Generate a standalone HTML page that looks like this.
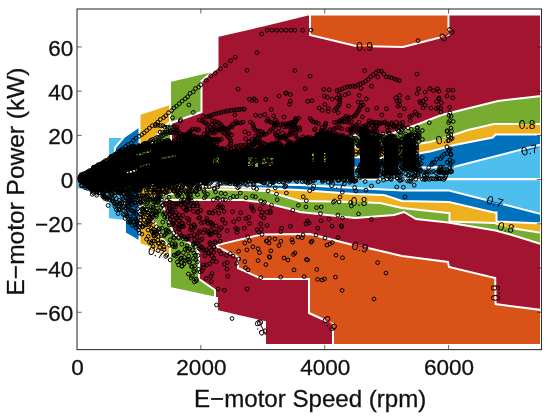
<!DOCTYPE html>
<html><head><meta charset="utf-8"><title>E-motor map</title><style>html,body{margin:0;padding:0;background:#fff}svg{display:block}</style></head><body>
<svg width="550" height="420" viewBox="0 0 550 420">
<rect width="550" height="420" fill="#fff"/>
<clipPath id="cp"><rect x="77" y="9" width="464.5" height="340.5"/></clipPath>
<g clip-path="url(#cp)">
<g stroke="#fff" stroke-width="2" stroke-linejoin="miter">
<polygon fill="#4DBEEE" points="77,179 108,161 108,137 123.5,137 138.5,127 138.5,114 170,104 170,81 217,70 217,36 263,25.5 309,14.4 541,14.4 541,344.9 265,344.9 265,322 217,311 217,298 170,288 170,254.5 140,244 138.5,241 124,233 124,221 108,219 108,196 77,189"/>
<polygon fill="#0072BD" points="124,137 115,147.5 115,172 216,174 286,171 350,167.6 410,167.8 454.5,166.8 541,144.5 541,14.4 309,14.4 263,25.5 217,36 217,70 170,81 170,104 138.5,114 138.5,127"/>
<polygon fill="#EDB120" points="139.5,114 139.5,170 216,167 286,163 350,157 383,158 405,157 418,153.5 430,151.4 454.5,145 492.7,137.5 495.5,134.5 541,134.5 541,14.4 309,14.4 263,25.5 217,36 217,70 170,81 170,104"/>
<polygon fill="#77AC30" points="170,81 170,121.5 155,137.5 140,162 216,162 286,157 350,147 383,146 417,144 430,142 443,138.5 468,130 494,124 541,124 541,14.4 309,14.4 263,25.5 217,36 217,70"/>
<polygon fill="#A2142F" points="171,123 201.5,112 201.5,81 217.5,67.5 217.5,36 263,25.5 309,14.4 541,14.4 541,96 498,101 441.5,115 416,125 390,134.3 357,134.8 346,137.5 286,150 216,155.5 171,163"/>
<polygon fill="#D95319" points="310,14.4 448.5,14.4 448.5,35 438,38 403,47 356,46 310,35"/>
<polygon fill="#0072BD" points="125,186 200,183.5 300,185 355,188 402,190.5 449,190.5 541,214 541,344.9 265,344.9 265,322 217,311 217,298 170,288 170,254.5 140,244 138.5,241 125,233"/>
<polygon fill="#EDB120" points="139.5,187 200,185.5 266,188.5 300,190 355,194 384,195 402,201 449,202 494,212.5 496.5,212.5 496.5,221.5 541,223.4 541,344.9 265,344.9 265,322 217,311 217,298 170,288 170,254.5 139.5,244"/>
<polygon fill="#77AC30" points="137,199.5 200,189 244,190 266,191 300,201 355,202 380,203 402,208 448,213 449.5,213 449.5,221.5 495,223 501,225.5 514,228.5 541,232.8 541,344.9 265,344.9 265,322 217,311 217,298 170,288 170,248 162,238 152,215"/>
<polygon fill="#A2142F" points="161,200 200,200 244,200 266,203 290,209 300,212 355,218 394,215 404,212 416,219 448,222.4 495.5,230.5 512,235 541,244 541,344.9 265,344.9 265,322 217,311 217,298 215,298 215,290 199,279 199,254 195,245 191,244 174,234 169,222.5"/>
<polygon fill="#D95319" points="215,245.6 262,234.4 310,234 353,245 368,248 402,256 448,262 449,267 495.2,278 495.6,304 541,310 541,344.9 333,344.9 333,324 309,313 309,279 262,279 238,268 238,257"/>
<line x1="77" y1="179.2" x2="541" y2="179.2" stroke-width="2.3"/>
</g>
<g transform="rotate(0 364.5 47)"><rect x="356.0" y="45.6" width="17" height="1.5" fill="#D95319"/><rect x="356.0" y="47" width="17" height="1.4" fill="#A2142F"/></g>
<g transform="rotate(-40 447 34)"><rect x="438.5" y="32.6" width="17" height="1.5" fill="#D95319"/><rect x="438.5" y="34" width="17" height="1.4" fill="#A2142F"/></g>
<g transform="rotate(-10 444 139)"><rect x="435.5" y="137.6" width="17" height="1.5" fill="#77AC30"/><rect x="435.5" y="139" width="17" height="1.4" fill="#EDB120"/></g>
<g transform="rotate(0 527 124.4)"><rect x="518.5" y="123.0" width="17" height="1.5" fill="#77AC30"/><rect x="518.5" y="124.4" width="17" height="1.4" fill="#EDB120"/></g>
<g transform="rotate(-13 529.5 150)"><rect x="521.0" y="148.6" width="17" height="1.5" fill="#0072BD"/><rect x="521.0" y="150" width="17" height="1.4" fill="#4DBEEE"/></g>
<g transform="rotate(-8 445.5 168)"><rect x="437.0" y="166.6" width="17" height="1.5" fill="#0072BD"/><rect x="437.0" y="168" width="17" height="1.4" fill="#4DBEEE"/></g>
<g transform="rotate(5 337 184)"><rect x="328.5" y="182.6" width="17" height="1.5" fill="#4DBEEE"/><rect x="328.5" y="184" width="17" height="1.4" fill="#0072BD"/></g>
<g transform="rotate(0 359 202)"><rect x="350.5" y="200.6" width="17" height="1.5" fill="#EDB120"/><rect x="350.5" y="202" width="17" height="1.4" fill="#77AC30"/></g>
<g transform="rotate(13 360 247)"><rect x="351.5" y="245.6" width="17" height="1.5" fill="#A2142F"/><rect x="351.5" y="247" width="17" height="1.4" fill="#D95319"/></g>
<g transform="rotate(15 495 201.5)"><rect x="486.5" y="200.1" width="17" height="1.5" fill="#4DBEEE"/><rect x="486.5" y="201.5" width="17" height="1.4" fill="#0072BD"/></g>
<g transform="rotate(12 506 227.3)"><rect x="497.5" y="225.9" width="17" height="1.5" fill="#EDB120"/><rect x="497.5" y="227.3" width="17" height="1.4" fill="#77AC30"/></g>
<g transform="rotate(50 330 323.5)"><rect x="321.5" y="322.1" width="17" height="1.5" fill="#D95319"/><rect x="321.5" y="323.5" width="17" height="1.4" fill="#A2142F"/></g>
<g transform="rotate(18 156.5 252.3)"><rect x="148.0" y="250.9" width="17" height="1.5" fill="#EDB120"/><rect x="148.0" y="252.3" width="17" height="1.4" fill="#fff"/></g>
<g transform="rotate(64 261.2 327.5)"><rect x="252.7" y="326.1" width="17" height="1.5" fill="#A2142F"/><rect x="252.7" y="327.5" width="17" height="1.4" fill="#fff"/></g>
<g font-family="Liberation Sans, sans-serif" font-size="12" fill="#000" text-anchor="middle">
<text x="364.5" y="51.3" transform="rotate(0 364.5 47)">0.9</text>
<text x="447" y="38.3" transform="rotate(-40 447 34)">0.9</text>
<text x="444" y="143.3" transform="rotate(-10 444 139)">0.8</text>
<text x="527" y="128.70000000000002" transform="rotate(0 527 124.4)">0.8</text>
<text x="529.5" y="154.3" transform="rotate(-13 529.5 150)">0.7</text>
<text x="445.5" y="172.3" transform="rotate(-8 445.5 168)">0.7</text>
<text x="337" y="188.3" transform="rotate(5 337 184)">0.7</text>
<text x="359" y="206.3" transform="rotate(0 359 202)">0.8</text>
<text x="360" y="251.3" transform="rotate(13 360 247)">0.9</text>
<text x="495" y="205.8" transform="rotate(15 495 201.5)">0.7</text>
<text x="506" y="231.60000000000002" transform="rotate(12 506 227.3)">0.8</text>
<text x="495.3" y="297.3" transform="rotate(-90 495.3 293)">0.9</text>
<text x="330" y="327.8" transform="rotate(50 330 323.5)">0.9</text>
<text x="156.5" y="256.6" transform="rotate(18 156.5 252.3)">0.7</text>
<text x="261.2" y="331.8" transform="rotate(64 261.2 327.5)">0.8</text>
</g>
<path d="M77.0,178.5 110.0,158.5 122.0,151.5 140.0,145.5 170.0,141.0 200.0,142.0 210.0,140.0 224.5,150.5 239.0,151.5 253.6,150.5 268.0,146.5 278.0,143.0 284.0,147.0 290.0,144.5 304.5,139.5 315.0,135.5 323.5,131.0 333.6,135.0 348.0,138.0 354.5,138.5 354.5,179.5 200.0,182.0 130.0,185.0 100.0,190.5 92.0,192.5 84.0,186.0 77.0,180.5Z" fill="#000"/>
<rect x="360" y="137.5" width="19.5" height="41.1" fill="#000"/>
<rect x="384" y="139.5" width="14.5" height="36.0" fill="#000"/>
<rect x="402.5" y="138" width="14.0" height="33.5" fill="#000"/>
<rect x="213" y="157" width="6.0" height="6.0" fill="#77AC30"/>
<rect x="248" y="157.5" width="5.0" height="8.5" fill="#77AC30"/>
<rect x="255" y="158" width="3.0" height="9.0" fill="#77AC30"/>
<rect x="262" y="157" width="6.0" height="7.0" fill="#77AC30"/>
<rect x="270" y="158" width="4.0" height="7.0" fill="#77AC30"/>
<rect x="312" y="153" width="1.6" height="9.0" fill="#EDB120"/>
<rect x="324" y="153" width="1.6" height="9.0" fill="#EDB120"/>
<rect x="268" y="163" width="3.0" height="3.0" fill="#EDB120"/>
<polygon fill="#fff" points="127,172 137,169.3 137,171 127,173.4"/>
<polygon fill="#EDB120" points="131,171.6 137,170 137,171 131,172.6"/>
<polygon fill="#77AC30" points="140,166 150,163 150,164.6 140,167.6"/>
<polygon fill="#77AC30" points="136,154.5 151,150.3 151,152 136,156.2"/>
<polygon fill="#77AC30" points="160,158 176,155 176,156.5 160,159.6"/>
<g fill="none" stroke="#000" stroke-width="1">
<circle cx="79.9" cy="177.3" r="1.9"/>
<circle cx="81.2" cy="176.4" r="1.9"/>
<circle cx="82.5" cy="175.3" r="1.9"/>
<circle cx="84.5" cy="174.6" r="1.9"/>
<circle cx="85.7" cy="173.0" r="1.9"/>
<circle cx="87.3" cy="172.6" r="1.9"/>
<circle cx="89.4" cy="170.7" r="1.9"/>
<circle cx="91.2" cy="170.8" r="1.9"/>
<circle cx="92.5" cy="169.3" r="1.9"/>
<circle cx="93.7" cy="167.6" r="1.9"/>
<circle cx="95.6" cy="166.6" r="1.9"/>
<circle cx="97.0" cy="165.8" r="1.9"/>
<circle cx="98.4" cy="165.1" r="1.9"/>
<circle cx="100.4" cy="164.5" r="1.9"/>
<circle cx="102.0" cy="163.3" r="1.9"/>
<circle cx="103.6" cy="162.3" r="1.9"/>
<circle cx="105.2" cy="160.8" r="1.9"/>
<circle cx="107.2" cy="160.6" r="1.9"/>
<circle cx="108.7" cy="159.3" r="1.9"/>
<circle cx="109.9" cy="157.7" r="1.9"/>
<circle cx="111.4" cy="156.3" r="1.9"/>
<circle cx="113.4" cy="155.5" r="1.9"/>
<circle cx="115.1" cy="154.3" r="1.9"/>
<circle cx="116.8" cy="153.7" r="1.9"/>
<circle cx="117.6" cy="151.8" r="1.9"/>
<circle cx="119.9" cy="150.9" r="1.9"/>
<circle cx="121.6" cy="149.7" r="1.9"/>
<circle cx="122.5" cy="148.8" r="1.9"/>
<circle cx="125.7" cy="146.4" r="1.9"/>
<circle cx="127.9" cy="144.5" r="1.9"/>
<circle cx="131.3" cy="143.0" r="1.9"/>
<circle cx="133.3" cy="140.4" r="1.9"/>
<circle cx="136.0" cy="138.2" r="1.9"/>
<circle cx="139.2" cy="136.3" r="1.9"/>
<circle cx="141.7" cy="134.6" r="1.9"/>
<circle cx="144.2" cy="132.8" r="1.9"/>
<circle cx="146.8" cy="130.5" r="1.9"/>
<circle cx="149.5" cy="128.1" r="1.9"/>
<circle cx="152.3" cy="125.7" r="1.9"/>
<circle cx="155.6" cy="124.2" r="1.9"/>
<circle cx="157.7" cy="122.2" r="1.9"/>
<circle cx="160.4" cy="119.4" r="1.9"/>
<circle cx="163.6" cy="117.6" r="1.9"/>
<circle cx="165.7" cy="115.8" r="1.9"/>
<circle cx="168.5" cy="112.8" r="1.9"/>
<circle cx="171.6" cy="110.6" r="1.9"/>
<circle cx="173.9" cy="107.9" r="1.9"/>
<circle cx="176.5" cy="106.1" r="1.9"/>
<circle cx="179.3" cy="103.7" r="1.9"/>
<circle cx="182.1" cy="101.1" r="1.9"/>
<circle cx="185.3" cy="98.7" r="1.9"/>
<circle cx="187.7" cy="96.7" r="1.9"/>
<circle cx="190.0" cy="93.4" r="1.9"/>
<circle cx="193.3" cy="91.8" r="1.9"/>
<circle cx="195.5" cy="88.6" r="1.9"/>
<circle cx="198.6" cy="87.1" r="1.9"/>
<circle cx="200.9" cy="84.7" r="1.9"/>
<circle cx="206.3" cy="80.4" r="1.9"/>
<circle cx="210.8" cy="75.9" r="1.9"/>
<circle cx="215.4" cy="73.1" r="1.9"/>
<circle cx="220.5" cy="68.9" r="1.9"/>
<circle cx="225.4" cy="65.2" r="1.9"/>
<circle cx="230.6" cy="60.7" r="1.9"/>
<circle cx="235.1" cy="57.2" r="1.9"/>
<circle cx="267.2" cy="30.2" r="1.9"/>
<circle cx="271.9" cy="30.2" r="1.9"/>
<circle cx="276.6" cy="30.2" r="1.9"/>
<circle cx="281.3" cy="30.2" r="1.9"/>
<circle cx="286.0" cy="30.2" r="1.9"/>
<circle cx="290.7" cy="30.2" r="1.9"/>
<circle cx="294.8" cy="30.2" r="1.9"/>
<circle cx="302.7" cy="30.3" r="1.9"/>
<circle cx="311.0" cy="30.1" r="1.9"/>
<circle cx="257.0" cy="52.6" r="1.9"/>
<circle cx="261.6" cy="34.0" r="1.9"/>
<circle cx="96.2" cy="167.0" r="1.9"/>
<circle cx="314.8" cy="180.0" r="1.9"/>
<circle cx="332.9" cy="133.3" r="1.9"/>
<circle cx="152.1" cy="142.4" r="1.9"/>
<circle cx="126.2" cy="150.3" r="1.9"/>
<circle cx="113.7" cy="157.5" r="1.9"/>
<circle cx="350.6" cy="180.8" r="1.9"/>
<circle cx="240.1" cy="150.0" r="1.9"/>
<circle cx="82.0" cy="185.7" r="1.9"/>
<circle cx="345.6" cy="137.9" r="1.9"/>
<circle cx="211.5" cy="181.8" r="1.9"/>
<circle cx="355.8" cy="138.6" r="1.9"/>
<circle cx="282.6" cy="182.0" r="1.9"/>
<circle cx="273.3" cy="182.7" r="1.9"/>
<circle cx="175.2" cy="184.9" r="1.9"/>
<circle cx="320.0" cy="133.7" r="1.9"/>
<circle cx="317.9" cy="134.3" r="1.9"/>
<circle cx="183.7" cy="141.8" r="1.9"/>
<circle cx="99.4" cy="192.8" r="1.9"/>
<circle cx="322.5" cy="180.3" r="1.9"/>
<circle cx="282.1" cy="145.5" r="1.9"/>
<circle cx="310.9" cy="137.8" r="1.9"/>
<circle cx="85.3" cy="187.6" r="1.9"/>
<circle cx="141.2" cy="185.1" r="1.9"/>
<circle cx="248.4" cy="181.0" r="1.9"/>
<circle cx="80.2" cy="177.1" r="1.9"/>
<circle cx="133.5" cy="148.9" r="1.9"/>
<circle cx="261.1" cy="149.6" r="1.9"/>
<circle cx="168.2" cy="183.0" r="1.9"/>
<circle cx="197.2" cy="184.0" r="1.9"/>
<circle cx="322.6" cy="131.7" r="1.9"/>
<circle cx="165.3" cy="141.7" r="1.9"/>
<circle cx="310.5" cy="181.5" r="1.9"/>
<circle cx="342.1" cy="135.8" r="1.9"/>
<circle cx="202.7" cy="140.6" r="1.9"/>
<circle cx="192.5" cy="182.9" r="1.9"/>
<circle cx="165.0" cy="185.6" r="1.9"/>
<circle cx="203.2" cy="139.9" r="1.9"/>
<circle cx="320.5" cy="133.2" r="1.9"/>
<circle cx="236.2" cy="152.2" r="1.9"/>
<circle cx="82.3" cy="175.1" r="1.9"/>
<circle cx="83.9" cy="185.7" r="1.9"/>
<circle cx="116.3" cy="155.2" r="1.9"/>
<circle cx="201.6" cy="183.1" r="1.9"/>
<circle cx="302.3" cy="181.5" r="1.9"/>
<circle cx="132.6" cy="147.0" r="1.9"/>
<circle cx="80.0" cy="177.3" r="1.9"/>
<circle cx="127.0" cy="149.4" r="1.9"/>
<circle cx="271.5" cy="145.6" r="1.9"/>
<circle cx="288.0" cy="146.2" r="1.9"/>
<circle cx="329.8" cy="134.8" r="1.9"/>
<circle cx="278.5" cy="143.2" r="1.9"/>
<circle cx="251.5" cy="181.4" r="1.9"/>
<circle cx="235.7" cy="183.0" r="1.9"/>
<circle cx="340.4" cy="136.9" r="1.9"/>
<circle cx="134.2" cy="186.4" r="1.9"/>
<circle cx="256.0" cy="180.8" r="1.9"/>
<circle cx="328.1" cy="182.1" r="1.9"/>
<circle cx="226.8" cy="181.6" r="1.9"/>
<circle cx="330.9" cy="180.0" r="1.9"/>
<circle cx="100.1" cy="164.7" r="1.9"/>
<circle cx="291.3" cy="142.6" r="1.9"/>
<circle cx="302.8" cy="141.0" r="1.9"/>
<circle cx="125.2" cy="151.3" r="1.9"/>
<circle cx="116.2" cy="154.9" r="1.9"/>
<circle cx="278.9" cy="181.9" r="1.9"/>
<circle cx="340.9" cy="137.9" r="1.9"/>
<circle cx="101.0" cy="164.0" r="1.9"/>
<circle cx="158.0" cy="184.8" r="1.9"/>
<circle cx="222.9" cy="182.4" r="1.9"/>
<circle cx="164.0" cy="142.9" r="1.9"/>
<circle cx="328.2" cy="133.9" r="1.9"/>
<circle cx="347.2" cy="138.1" r="1.9"/>
<circle cx="133.1" cy="147.8" r="1.9"/>
<circle cx="245.9" cy="152.4" r="1.9"/>
<circle cx="221.0" cy="148.8" r="1.9"/>
<circle cx="234.0" cy="151.7" r="1.9"/>
<circle cx="95.4" cy="167.1" r="1.9"/>
<circle cx="344.0" cy="179.5" r="1.9"/>
<circle cx="209.0" cy="140.0" r="1.9"/>
<circle cx="304.6" cy="180.8" r="1.9"/>
<circle cx="165.5" cy="142.0" r="1.9"/>
<circle cx="335.2" cy="136.2" r="1.9"/>
<circle cx="83.4" cy="173.8" r="1.9"/>
<circle cx="268.7" cy="145.8" r="1.9"/>
<circle cx="249.9" cy="151.4" r="1.9"/>
<circle cx="111.3" cy="157.0" r="1.9"/>
<circle cx="132.2" cy="147.9" r="1.9"/>
<circle cx="181.8" cy="141.5" r="1.9"/>
<circle cx="121.6" cy="152.1" r="1.9"/>
<circle cx="255.1" cy="151.1" r="1.9"/>
<circle cx="247.7" cy="181.0" r="1.9"/>
<circle cx="283.7" cy="182.5" r="1.9"/>
<circle cx="165.1" cy="143.0" r="1.9"/>
<circle cx="137.9" cy="186.5" r="1.9"/>
<circle cx="114.4" cy="156.6" r="1.9"/>
<circle cx="149.4" cy="145.1" r="1.9"/>
<circle cx="194.6" cy="181.6" r="1.9"/>
<circle cx="189.4" cy="181.5" r="1.9"/>
<circle cx="133.1" cy="186.8" r="1.9"/>
<circle cx="347.2" cy="137.8" r="1.9"/>
<circle cx="288.5" cy="145.7" r="1.9"/>
<circle cx="129.7" cy="147.7" r="1.9"/>
<circle cx="87.4" cy="172.2" r="1.9"/>
<circle cx="235.7" cy="150.3" r="1.9"/>
<circle cx="133.9" cy="187.0" r="1.9"/>
<circle cx="335.6" cy="134.1" r="1.9"/>
<circle cx="342.5" cy="137.6" r="1.9"/>
<circle cx="168.2" cy="141.3" r="1.9"/>
<circle cx="197.0" cy="181.2" r="1.9"/>
<circle cx="272.6" cy="180.4" r="1.9"/>
<circle cx="203.7" cy="182.2" r="1.9"/>
<circle cx="131.4" cy="148.4" r="1.9"/>
<circle cx="81.3" cy="185.4" r="1.9"/>
<circle cx="273.6" cy="181.8" r="1.9"/>
<circle cx="189.9" cy="141.7" r="1.9"/>
<circle cx="351.2" cy="179.4" r="1.9"/>
<circle cx="331.3" cy="181.4" r="1.9"/>
<circle cx="304.3" cy="140.8" r="1.9"/>
<circle cx="322.5" cy="181.5" r="1.9"/>
<circle cx="290.5" cy="145.0" r="1.9"/>
<circle cx="96.7" cy="166.5" r="1.9"/>
<circle cx="80.0" cy="177.1" r="1.9"/>
<circle cx="251.1" cy="152.0" r="1.9"/>
<circle cx="262.8" cy="148.4" r="1.9"/>
<circle cx="235.9" cy="151.0" r="1.9"/>
<circle cx="356.0" cy="180.7" r="1.9"/>
<circle cx="289.5" cy="179.6" r="1.9"/>
<circle cx="248.7" cy="181.0" r="1.9"/>
<circle cx="189.0" cy="140.7" r="1.9"/>
<circle cx="181.8" cy="140.6" r="1.9"/>
<circle cx="329.7" cy="133.5" r="1.9"/>
<circle cx="346.8" cy="139.2" r="1.9"/>
<circle cx="255.0" cy="180.4" r="1.9"/>
<circle cx="243.7" cy="180.4" r="1.9"/>
<circle cx="336.5" cy="135.5" r="1.9"/>
<circle cx="124.2" cy="151.1" r="1.9"/>
<circle cx="93.3" cy="192.5" r="1.9"/>
<circle cx="224.0" cy="149.7" r="1.9"/>
<circle cx="156.7" cy="184.6" r="1.9"/>
<circle cx="156.1" cy="183.8" r="1.9"/>
<circle cx="80.9" cy="174.8" r="1.9"/>
<circle cx="120.7" cy="187.0" r="1.9"/>
<circle cx="327.4" cy="179.1" r="1.9"/>
<circle cx="352.9" cy="178.8" r="1.9"/>
<circle cx="329.6" cy="133.4" r="1.9"/>
<circle cx="348.5" cy="138.1" r="1.9"/>
<circle cx="338.5" cy="180.3" r="1.9"/>
<circle cx="350.1" cy="180.5" r="1.9"/>
<circle cx="109.1" cy="189.3" r="1.9"/>
<circle cx="133.8" cy="147.6" r="1.9"/>
<circle cx="111.7" cy="158.0" r="1.9"/>
<circle cx="204.1" cy="141.4" r="1.9"/>
<circle cx="194.0" cy="183.0" r="1.9"/>
<circle cx="355.3" cy="180.8" r="1.9"/>
<circle cx="143.5" cy="146.2" r="1.9"/>
<circle cx="295.8" cy="180.6" r="1.9"/>
<circle cx="152.8" cy="184.8" r="1.9"/>
<circle cx="242.1" cy="182.7" r="1.9"/>
<circle cx="130.0" cy="150.3" r="1.9"/>
<circle cx="332.5" cy="179.0" r="1.9"/>
<circle cx="94.0" cy="168.0" r="1.9"/>
<circle cx="250.9" cy="150.8" r="1.9"/>
<circle cx="97.2" cy="166.8" r="1.9"/>
<circle cx="230.6" cy="181.7" r="1.9"/>
<circle cx="210.5" cy="139.9" r="1.9"/>
<circle cx="284.8" cy="179.9" r="1.9"/>
<circle cx="110.4" cy="189.6" r="1.9"/>
<circle cx="291.5" cy="143.8" r="1.9"/>
<circle cx="149.0" cy="184.4" r="1.9"/>
<circle cx="259.4" cy="181.1" r="1.9"/>
<circle cx="230.1" cy="183.5" r="1.9"/>
<circle cx="196.3" cy="140.7" r="1.9"/>
<circle cx="321.2" cy="131.0" r="1.9"/>
<circle cx="234.4" cy="151.7" r="1.9"/>
<circle cx="160.4" cy="182.9" r="1.9"/>
<circle cx="136.5" cy="184.0" r="1.9"/>
<circle cx="161.8" cy="184.9" r="1.9"/>
<circle cx="155.9" cy="142.7" r="1.9"/>
<circle cx="279.5" cy="142.9" r="1.9"/>
<circle cx="274.9" cy="145.3" r="1.9"/>
<circle cx="339.2" cy="180.1" r="1.9"/>
<circle cx="301.1" cy="140.1" r="1.9"/>
<circle cx="188.5" cy="184.4" r="1.9"/>
<circle cx="146.3" cy="144.2" r="1.9"/>
<circle cx="178.4" cy="140.9" r="1.9"/>
<circle cx="131.4" cy="149.3" r="1.9"/>
<circle cx="227.8" cy="182.4" r="1.9"/>
<circle cx="126.3" cy="187.5" r="1.9"/>
<circle cx="155.5" cy="143.2" r="1.9"/>
<circle cx="228.8" cy="152.2" r="1.9"/>
<circle cx="258.7" cy="180.3" r="1.9"/>
<circle cx="229.6" cy="180.8" r="1.9"/>
<circle cx="99.8" cy="192.4" r="1.9"/>
<circle cx="100.6" cy="189.8" r="1.9"/>
<circle cx="285.1" cy="180.4" r="1.9"/>
<circle cx="138.5" cy="185.3" r="1.9"/>
<circle cx="290.4" cy="143.9" r="1.9"/>
<circle cx="347.1" cy="180.2" r="1.9"/>
<circle cx="226.9" cy="182.8" r="1.9"/>
<circle cx="332.3" cy="135.5" r="1.9"/>
<circle cx="263.0" cy="182.6" r="1.9"/>
<circle cx="309.6" cy="182.3" r="1.9"/>
<circle cx="255.6" cy="150.6" r="1.9"/>
<circle cx="300.8" cy="140.5" r="1.9"/>
<circle cx="117.8" cy="189.4" r="1.9"/>
<circle cx="181.8" cy="140.5" r="1.9"/>
<circle cx="195.6" cy="143.3" r="1.9"/>
<circle cx="93.5" cy="167.3" r="1.9"/>
<circle cx="257.8" cy="180.6" r="1.9"/>
<circle cx="94.4" cy="168.2" r="1.9"/>
<circle cx="330.7" cy="132.7" r="1.9"/>
<circle cx="128.5" cy="148.5" r="1.9"/>
<circle cx="277.1" cy="142.5" r="1.9"/>
<circle cx="128.6" cy="148.3" r="1.9"/>
<circle cx="288.3" cy="145.3" r="1.9"/>
<circle cx="305.0" cy="138.6" r="1.9"/>
<circle cx="324.6" cy="180.1" r="1.9"/>
<circle cx="229.7" cy="182.1" r="1.9"/>
<circle cx="138.7" cy="147.3" r="1.9"/>
<circle cx="300.6" cy="140.9" r="1.9"/>
<circle cx="220.9" cy="149.4" r="1.9"/>
<circle cx="260.5" cy="147.1" r="1.9"/>
<circle cx="208.9" cy="141.1" r="1.9"/>
<circle cx="276.0" cy="180.3" r="1.9"/>
<circle cx="120.8" cy="151.5" r="1.9"/>
<circle cx="319.5" cy="133.5" r="1.9"/>
<circle cx="354.1" cy="138.6" r="1.9"/>
<circle cx="119.0" cy="186.0" r="1.9"/>
<circle cx="306.2" cy="181.9" r="1.9"/>
<circle cx="100.0" cy="165.2" r="1.9"/>
<circle cx="104.1" cy="162.0" r="1.9"/>
<circle cx="343.6" cy="138.2" r="1.9"/>
<circle cx="161.7" cy="184.0" r="1.9"/>
<circle cx="332.8" cy="135.7" r="1.9"/>
<circle cx="135.1" cy="147.2" r="1.9"/>
<circle cx="121.0" cy="186.7" r="1.9"/>
<circle cx="163.7" cy="141.4" r="1.9"/>
<circle cx="207.4" cy="182.0" r="1.9"/>
<circle cx="268.7" cy="145.9" r="1.9"/>
<circle cx="205.8" cy="183.6" r="1.9"/>
<circle cx="259.4" cy="148.5" r="1.9"/>
<circle cx="275.1" cy="144.2" r="1.9"/>
<circle cx="204.8" cy="142.5" r="1.9"/>
<circle cx="300.0" cy="141.4" r="1.9"/>
<circle cx="158.0" cy="142.9" r="1.9"/>
<circle cx="160.2" cy="142.1" r="1.9"/>
<circle cx="263.0" cy="147.0" r="1.9"/>
<circle cx="281.1" cy="146.4" r="1.9"/>
<circle cx="234.0" cy="181.5" r="1.9"/>
<circle cx="307.7" cy="137.2" r="1.9"/>
<circle cx="103.3" cy="191.2" r="1.9"/>
<circle cx="127.2" cy="150.8" r="1.9"/>
<circle cx="242.4" cy="150.4" r="1.9"/>
<circle cx="120.8" cy="151.9" r="1.9"/>
<circle cx="97.3" cy="191.5" r="1.9"/>
<circle cx="219.7" cy="183.1" r="1.9"/>
<circle cx="306.1" cy="138.4" r="1.9"/>
<circle cx="192.0" cy="141.4" r="1.9"/>
<circle cx="272.3" cy="182.4" r="1.9"/>
<circle cx="261.2" cy="180.1" r="1.9"/>
<circle cx="169.4" cy="141.5" r="1.9"/>
<circle cx="106.7" cy="160.6" r="1.9"/>
<circle cx="297.0" cy="181.4" r="1.9"/>
<circle cx="121.2" cy="188.5" r="1.9"/>
<circle cx="230.0" cy="150.9" r="1.9"/>
<circle cx="116.5" cy="189.6" r="1.9"/>
<circle cx="221.0" cy="183.3" r="1.9"/>
<circle cx="132.0" cy="185.9" r="1.9"/>
<circle cx="132.2" cy="147.3" r="1.9"/>
<circle cx="237.8" cy="181.4" r="1.9"/>
<circle cx="336.2" cy="135.4" r="1.9"/>
<circle cx="111.6" cy="187.8" r="1.9"/>
<circle cx="329.2" cy="133.5" r="1.9"/>
<circle cx="233.3" cy="152.3" r="1.9"/>
<circle cx="353.8" cy="180.4" r="1.9"/>
<circle cx="111.2" cy="188.4" r="1.9"/>
<circle cx="327.3" cy="132.7" r="1.9"/>
<circle cx="308.8" cy="138.0" r="1.9"/>
<circle cx="98.3" cy="164.6" r="1.9"/>
<circle cx="352.4" cy="180.6" r="1.9"/>
<circle cx="162.8" cy="185.0" r="1.9"/>
<circle cx="183.5" cy="142.4" r="1.9"/>
<circle cx="81.6" cy="175.6" r="1.9"/>
<circle cx="116.9" cy="154.7" r="1.9"/>
<circle cx="125.5" cy="149.6" r="1.9"/>
<circle cx="235.5" cy="151.7" r="1.9"/>
<circle cx="87.6" cy="188.4" r="1.9"/>
<circle cx="344.7" cy="180.2" r="1.9"/>
<circle cx="191.8" cy="183.6" r="1.9"/>
<circle cx="288.5" cy="181.1" r="1.9"/>
<circle cx="354.5" cy="181.2" r="1.9"/>
<circle cx="191.1" cy="141.9" r="1.9"/>
<circle cx="329.6" cy="133.5" r="1.9"/>
<circle cx="197.6" cy="182.1" r="1.9"/>
<circle cx="92.3" cy="194.3" r="1.9"/>
<circle cx="281.2" cy="145.9" r="1.9"/>
<circle cx="162.0" cy="140.9" r="1.9"/>
<circle cx="111.7" cy="157.5" r="1.9"/>
<circle cx="187.7" cy="142.2" r="1.9"/>
<circle cx="223.8" cy="149.4" r="1.9"/>
<circle cx="187.4" cy="140.3" r="1.9"/>
<circle cx="331.3" cy="181.0" r="1.9"/>
<circle cx="318.8" cy="134.4" r="1.9"/>
<circle cx="138.9" cy="185.4" r="1.9"/>
<circle cx="329.1" cy="134.1" r="1.9"/>
<circle cx="111.5" cy="159.0" r="1.9"/>
<circle cx="167.6" cy="142.5" r="1.9"/>
<circle cx="304.5" cy="139.1" r="1.9"/>
<circle cx="240.4" cy="150.0" r="1.9"/>
<circle cx="327.7" cy="132.7" r="1.9"/>
<circle cx="337.6" cy="180.3" r="1.9"/>
<circle cx="134.6" cy="148.6" r="1.9"/>
<circle cx="327.2" cy="133.5" r="1.9"/>
<circle cx="175.8" cy="140.2" r="1.9"/>
<circle cx="322.4" cy="179.7" r="1.9"/>
<circle cx="253.4" cy="151.7" r="1.9"/>
<circle cx="91.0" cy="170.7" r="1.9"/>
<circle cx="164.3" cy="185.3" r="1.9"/>
<circle cx="276.0" cy="144.3" r="1.9"/>
<circle cx="338.6" cy="134.8" r="1.9"/>
<circle cx="139.3" cy="146.4" r="1.9"/>
<circle cx="131.8" cy="147.4" r="1.9"/>
<circle cx="262.4" cy="181.2" r="1.9"/>
<circle cx="261.7" cy="181.9" r="1.9"/>
<circle cx="140.9" cy="146.6" r="1.9"/>
<circle cx="263.1" cy="148.3" r="1.9"/>
<circle cx="102.1" cy="190.5" r="1.9"/>
<circle cx="224.4" cy="149.1" r="1.9"/>
<circle cx="244.3" cy="150.4" r="1.9"/>
<circle cx="301.1" cy="140.0" r="1.9"/>
<circle cx="287.8" cy="144.7" r="1.9"/>
<circle cx="229.9" cy="152.1" r="1.9"/>
<circle cx="352.6" cy="138.2" r="1.9"/>
<circle cx="286.4" cy="147.3" r="1.9"/>
<circle cx="216.5" cy="144.9" r="1.9"/>
<circle cx="256.9" cy="150.0" r="1.9"/>
<circle cx="295.5" cy="142.6" r="1.9"/>
<circle cx="312.9" cy="180.8" r="1.9"/>
<circle cx="342.5" cy="137.7" r="1.9"/>
<circle cx="123.1" cy="186.0" r="1.9"/>
<circle cx="199.9" cy="183.5" r="1.9"/>
<circle cx="297.7" cy="141.8" r="1.9"/>
<circle cx="138.7" cy="145.9" r="1.9"/>
<circle cx="86.9" cy="173.2" r="1.9"/>
<circle cx="236.8" cy="181.0" r="1.9"/>
<circle cx="119.4" cy="153.0" r="1.9"/>
<circle cx="198.3" cy="141.2" r="1.9"/>
<circle cx="299.8" cy="142.3" r="1.9"/>
<circle cx="235.7" cy="152.1" r="1.9"/>
<circle cx="143.4" cy="144.4" r="1.9"/>
<circle cx="88.8" cy="171.7" r="1.9"/>
<circle cx="223.6" cy="150.1" r="1.9"/>
<circle cx="101.7" cy="189.7" r="1.9"/>
<circle cx="148.1" cy="144.9" r="1.9"/>
<circle cx="308.8" cy="179.4" r="1.9"/>
<circle cx="191.6" cy="140.9" r="1.9"/>
<circle cx="347.8" cy="137.9" r="1.9"/>
<circle cx="289.4" cy="180.0" r="1.9"/>
<circle cx="204.0" cy="181.1" r="1.9"/>
<circle cx="144.1" cy="183.8" r="1.9"/>
<circle cx="186.6" cy="141.3" r="1.9"/>
<circle cx="98.3" cy="167.1" r="1.9"/>
<circle cx="290.0" cy="180.3" r="1.9"/>
<circle cx="147.6" cy="143.6" r="1.9"/>
<circle cx="205.8" cy="182.1" r="1.9"/>
<circle cx="171.0" cy="184.2" r="1.9"/>
<circle cx="88.1" cy="172.2" r="1.9"/>
<circle cx="93.3" cy="169.2" r="1.9"/>
<circle cx="318.2" cy="135.0" r="1.9"/>
<circle cx="206.1" cy="141.8" r="1.9"/>
<circle cx="183.3" cy="182.4" r="1.9"/>
<circle cx="173.9" cy="141.3" r="1.9"/>
<circle cx="122.7" cy="150.4" r="1.9"/>
<circle cx="207.5" cy="140.3" r="1.9"/>
<circle cx="354.1" cy="181.3" r="1.9"/>
<circle cx="134.1" cy="146.2" r="1.9"/>
<circle cx="269.9" cy="145.2" r="1.9"/>
<circle cx="82.2" cy="174.6" r="1.9"/>
<circle cx="186.6" cy="183.9" r="1.9"/>
<circle cx="151.9" cy="142.7" r="1.9"/>
<circle cx="338.3" cy="136.8" r="1.9"/>
<circle cx="278.8" cy="179.8" r="1.9"/>
<circle cx="166.9" cy="140.2" r="1.9"/>
<circle cx="323.2" cy="132.0" r="1.9"/>
<circle cx="221.9" cy="148.3" r="1.9"/>
<circle cx="143.5" cy="143.9" r="1.9"/>
<circle cx="243.1" cy="150.7" r="1.9"/>
<circle cx="195.3" cy="140.8" r="1.9"/>
<circle cx="274.1" cy="145.0" r="1.9"/>
<circle cx="262.9" cy="147.0" r="1.9"/>
<circle cx="155.2" cy="184.2" r="1.9"/>
<circle cx="184.8" cy="182.4" r="1.9"/>
<circle cx="158.5" cy="141.9" r="1.9"/>
<circle cx="88.4" cy="172.0" r="1.9"/>
<circle cx="234.9" cy="183.6" r="1.9"/>
<circle cx="160.2" cy="185.6" r="1.9"/>
<circle cx="137.3" cy="185.8" r="1.9"/>
<circle cx="343.5" cy="179.4" r="1.9"/>
<circle cx="253.5" cy="150.3" r="1.9"/>
<circle cx="186.5" cy="141.2" r="1.9"/>
<circle cx="168.6" cy="140.6" r="1.9"/>
<circle cx="121.2" cy="151.9" r="1.9"/>
<circle cx="123.5" cy="186.0" r="1.9"/>
<circle cx="103.0" cy="162.5" r="1.9"/>
<circle cx="119.1" cy="153.8" r="1.9"/>
<circle cx="231.3" cy="180.6" r="1.9"/>
<circle cx="186.2" cy="140.2" r="1.9"/>
<circle cx="189.8" cy="141.6" r="1.9"/>
<circle cx="240.5" cy="150.9" r="1.9"/>
<circle cx="147.7" cy="143.9" r="1.9"/>
<circle cx="325.8" cy="131.2" r="1.9"/>
<circle cx="263.4" cy="147.7" r="1.9"/>
<circle cx="248.7" cy="181.4" r="1.9"/>
<circle cx="237.8" cy="182.9" r="1.9"/>
<circle cx="252.0" cy="181.5" r="1.9"/>
<circle cx="192.9" cy="142.8" r="1.9"/>
<circle cx="322.4" cy="132.8" r="1.9"/>
<circle cx="87.6" cy="172.1" r="1.9"/>
<circle cx="119.7" cy="203.9" r="1.9"/>
<circle cx="260.2" cy="208.9" r="1.9"/>
<circle cx="142.8" cy="210.7" r="1.9"/>
<circle cx="96.8" cy="189.2" r="1.9"/>
<circle cx="141.2" cy="203.0" r="1.9"/>
<circle cx="111.4" cy="186.0" r="1.9"/>
<circle cx="167.5" cy="184.2" r="1.9"/>
<circle cx="146.6" cy="239.1" r="1.9"/>
<circle cx="165.8" cy="183.3" r="1.9"/>
<circle cx="148.8" cy="187.1" r="1.9"/>
<circle cx="162.2" cy="242.2" r="1.9"/>
<circle cx="165.2" cy="192.2" r="1.9"/>
<circle cx="108.0" cy="198.0" r="1.9"/>
<circle cx="194.1" cy="182.1" r="1.9"/>
<circle cx="191.1" cy="226.8" r="1.9"/>
<circle cx="194.2" cy="182.8" r="1.9"/>
<circle cx="189.5" cy="182.3" r="1.9"/>
<circle cx="190.3" cy="190.3" r="1.9"/>
<circle cx="194.1" cy="234.6" r="1.9"/>
<circle cx="198.6" cy="233.0" r="1.9"/>
<circle cx="133.6" cy="222.2" r="1.9"/>
<circle cx="232.4" cy="211.6" r="1.9"/>
<circle cx="150.2" cy="210.7" r="1.9"/>
<circle cx="147.0" cy="196.7" r="1.9"/>
<circle cx="152.2" cy="214.9" r="1.9"/>
<circle cx="256.6" cy="189.1" r="1.9"/>
<circle cx="280.7" cy="277.1" r="1.9"/>
<circle cx="171.9" cy="182.8" r="1.9"/>
<circle cx="206.1" cy="278.4" r="1.9"/>
<circle cx="212.2" cy="226.3" r="1.9"/>
<circle cx="178.7" cy="195.3" r="1.9"/>
<circle cx="172.1" cy="186.9" r="1.9"/>
<circle cx="128.5" cy="195.6" r="1.9"/>
<circle cx="139.1" cy="190.1" r="1.9"/>
<circle cx="186.1" cy="187.2" r="1.9"/>
<circle cx="128.4" cy="182.8" r="1.9"/>
<circle cx="216.3" cy="226.1" r="1.9"/>
<circle cx="181.9" cy="223.1" r="1.9"/>
<circle cx="144.0" cy="220.0" r="1.9"/>
<circle cx="205.5" cy="183.0" r="1.9"/>
<circle cx="183.6" cy="236.8" r="1.9"/>
<circle cx="127.2" cy="195.0" r="1.9"/>
<circle cx="209.6" cy="263.8" r="1.9"/>
<circle cx="105.2" cy="186.3" r="1.9"/>
<circle cx="96.6" cy="193.1" r="1.9"/>
<circle cx="157.4" cy="212.1" r="1.9"/>
<circle cx="316.5" cy="207.7" r="1.9"/>
<circle cx="159.8" cy="184.8" r="1.9"/>
<circle cx="233.1" cy="256.2" r="1.9"/>
<circle cx="133.5" cy="184.6" r="1.9"/>
<circle cx="181.8" cy="244.2" r="1.9"/>
<circle cx="119.1" cy="200.3" r="1.9"/>
<circle cx="102.9" cy="186.6" r="1.9"/>
<circle cx="169.0" cy="182.1" r="1.9"/>
<circle cx="187.0" cy="248.1" r="1.9"/>
<circle cx="80.3" cy="181.1" r="1.9"/>
<circle cx="122.8" cy="188.6" r="1.9"/>
<circle cx="247.7" cy="236.7" r="1.9"/>
<circle cx="215.0" cy="241.7" r="1.9"/>
<circle cx="173.5" cy="237.3" r="1.9"/>
<circle cx="157.0" cy="231.5" r="1.9"/>
<circle cx="238.7" cy="219.0" r="1.9"/>
<circle cx="104.5" cy="198.3" r="1.9"/>
<circle cx="304.1" cy="276.6" r="1.9"/>
<circle cx="135.3" cy="195.3" r="1.9"/>
<circle cx="230.2" cy="198.3" r="1.9"/>
<circle cx="182.5" cy="223.8" r="1.9"/>
<circle cx="177.7" cy="218.0" r="1.9"/>
<circle cx="126.7" cy="193.5" r="1.9"/>
<circle cx="96.7" cy="187.1" r="1.9"/>
<circle cx="157.1" cy="183.0" r="1.9"/>
<circle cx="151.5" cy="187.2" r="1.9"/>
<circle cx="159.0" cy="194.7" r="1.9"/>
<circle cx="162.8" cy="183.3" r="1.9"/>
<circle cx="225.3" cy="193.9" r="1.9"/>
<circle cx="185.4" cy="210.1" r="1.9"/>
<circle cx="317.8" cy="228.2" r="1.9"/>
<circle cx="211.5" cy="234.1" r="1.9"/>
<circle cx="177.2" cy="203.6" r="1.9"/>
<circle cx="138.6" cy="198.5" r="1.9"/>
<circle cx="221.1" cy="193.2" r="1.9"/>
<circle cx="158.3" cy="186.0" r="1.9"/>
<circle cx="173.7" cy="190.8" r="1.9"/>
<circle cx="190.4" cy="186.9" r="1.9"/>
<circle cx="137.2" cy="222.1" r="1.9"/>
<circle cx="96.7" cy="195.3" r="1.9"/>
<circle cx="148.8" cy="186.5" r="1.9"/>
<circle cx="134.3" cy="182.9" r="1.9"/>
<circle cx="139.6" cy="184.3" r="1.9"/>
<circle cx="142.5" cy="195.7" r="1.9"/>
<circle cx="140.4" cy="214.2" r="1.9"/>
<circle cx="131.3" cy="190.5" r="1.9"/>
<circle cx="181.9" cy="191.3" r="1.9"/>
<circle cx="156.3" cy="200.0" r="1.9"/>
<circle cx="153.0" cy="184.5" r="1.9"/>
<circle cx="211.2" cy="281.4" r="1.9"/>
<circle cx="123.8" cy="182.5" r="1.9"/>
<circle cx="178.7" cy="238.1" r="1.9"/>
<circle cx="127.1" cy="191.1" r="1.9"/>
<circle cx="107.3" cy="185.1" r="1.9"/>
<circle cx="138.7" cy="196.2" r="1.9"/>
<circle cx="111.4" cy="184.2" r="1.9"/>
<circle cx="166.9" cy="255.0" r="1.9"/>
<circle cx="104.5" cy="187.0" r="1.9"/>
<circle cx="160.6" cy="202.7" r="1.9"/>
<circle cx="110.3" cy="184.1" r="1.9"/>
<circle cx="223.0" cy="199.4" r="1.9"/>
<circle cx="197.4" cy="261.8" r="1.9"/>
<circle cx="193.4" cy="243.6" r="1.9"/>
<circle cx="129.4" cy="200.9" r="1.9"/>
<circle cx="154.5" cy="236.1" r="1.9"/>
<circle cx="298.3" cy="205.3" r="1.9"/>
<circle cx="199.6" cy="187.0" r="1.9"/>
<circle cx="160.7" cy="207.6" r="1.9"/>
<circle cx="170.3" cy="219.1" r="1.9"/>
<circle cx="117.9" cy="190.7" r="1.9"/>
<circle cx="138.6" cy="229.9" r="1.9"/>
<circle cx="143.4" cy="184.3" r="1.9"/>
<circle cx="141.9" cy="209.4" r="1.9"/>
<circle cx="336.0" cy="255.2" r="1.9"/>
<circle cx="269.2" cy="256.7" r="1.9"/>
<circle cx="154.2" cy="193.0" r="1.9"/>
<circle cx="125.1" cy="189.8" r="1.9"/>
<circle cx="151.2" cy="242.9" r="1.9"/>
<circle cx="168.8" cy="222.7" r="1.9"/>
<circle cx="143.1" cy="212.4" r="1.9"/>
<circle cx="115.2" cy="203.3" r="1.9"/>
<circle cx="307.9" cy="183.1" r="1.9"/>
<circle cx="169.2" cy="232.0" r="1.9"/>
<circle cx="135.8" cy="218.9" r="1.9"/>
<circle cx="140.2" cy="186.8" r="1.9"/>
<circle cx="157.8" cy="192.2" r="1.9"/>
<circle cx="137.7" cy="183.5" r="1.9"/>
<circle cx="188.0" cy="239.2" r="1.9"/>
<circle cx="121.7" cy="186.8" r="1.9"/>
<circle cx="174.1" cy="255.1" r="1.9"/>
<circle cx="238.8" cy="259.0" r="1.9"/>
<circle cx="217.8" cy="184.8" r="1.9"/>
<circle cx="137.8" cy="190.2" r="1.9"/>
<circle cx="194.4" cy="281.9" r="1.9"/>
<circle cx="164.8" cy="217.2" r="1.9"/>
<circle cx="121.7" cy="184.6" r="1.9"/>
<circle cx="210.8" cy="276.4" r="1.9"/>
<circle cx="86.2" cy="183.7" r="1.9"/>
<circle cx="131.2" cy="197.4" r="1.9"/>
<circle cx="134.7" cy="225.0" r="1.9"/>
<circle cx="159.0" cy="211.0" r="1.9"/>
<circle cx="193.4" cy="258.5" r="1.9"/>
<circle cx="109.9" cy="190.7" r="1.9"/>
<circle cx="196.3" cy="280.8" r="1.9"/>
<circle cx="190.5" cy="230.1" r="1.9"/>
<circle cx="342.5" cy="218.1" r="1.9"/>
<circle cx="312.8" cy="188.8" r="1.9"/>
<circle cx="197.9" cy="212.4" r="1.9"/>
<circle cx="176.8" cy="184.2" r="1.9"/>
<circle cx="181.1" cy="190.8" r="1.9"/>
<circle cx="136.9" cy="183.0" r="1.9"/>
<circle cx="174.3" cy="182.9" r="1.9"/>
<circle cx="156.3" cy="199.5" r="1.9"/>
<circle cx="203.8" cy="250.2" r="1.9"/>
<circle cx="189.4" cy="189.2" r="1.9"/>
<circle cx="177.3" cy="190.1" r="1.9"/>
<circle cx="127.0" cy="216.7" r="1.9"/>
<circle cx="214.0" cy="188.2" r="1.9"/>
<circle cx="102.6" cy="196.2" r="1.9"/>
<circle cx="253.4" cy="210.6" r="1.9"/>
<circle cx="191.2" cy="200.5" r="1.9"/>
<circle cx="153.9" cy="190.0" r="1.9"/>
<circle cx="167.3" cy="216.7" r="1.9"/>
<circle cx="140.8" cy="185.6" r="1.9"/>
<circle cx="267.4" cy="183.4" r="1.9"/>
<circle cx="198.0" cy="205.9" r="1.9"/>
<circle cx="134.3" cy="188.5" r="1.9"/>
<circle cx="183.5" cy="226.3" r="1.9"/>
<circle cx="148.3" cy="213.0" r="1.9"/>
<circle cx="207.6" cy="230.9" r="1.9"/>
<circle cx="114.1" cy="188.2" r="1.9"/>
<circle cx="161.1" cy="186.4" r="1.9"/>
<circle cx="91.8" cy="184.5" r="1.9"/>
<circle cx="160.5" cy="182.8" r="1.9"/>
<circle cx="119.0" cy="209.3" r="1.9"/>
<circle cx="204.7" cy="255.9" r="1.9"/>
<circle cx="144.8" cy="181.0" r="1.9"/>
<circle cx="112.8" cy="198.6" r="1.9"/>
<circle cx="125.1" cy="218.4" r="1.9"/>
<circle cx="142.7" cy="226.8" r="1.9"/>
<circle cx="136.7" cy="214.5" r="1.9"/>
<circle cx="171.9" cy="209.6" r="1.9"/>
<circle cx="219.5" cy="229.9" r="1.9"/>
<circle cx="132.2" cy="182.3" r="1.9"/>
<circle cx="211.9" cy="256.0" r="1.9"/>
<circle cx="203.7" cy="222.5" r="1.9"/>
<circle cx="173.3" cy="181.7" r="1.9"/>
<circle cx="160.5" cy="194.5" r="1.9"/>
<circle cx="148.3" cy="224.7" r="1.9"/>
<circle cx="203.6" cy="250.1" r="1.9"/>
<circle cx="224.0" cy="211.4" r="1.9"/>
<circle cx="320.5" cy="213.5" r="1.9"/>
<circle cx="211.4" cy="250.3" r="1.9"/>
<circle cx="181.7" cy="236.2" r="1.9"/>
<circle cx="143.5" cy="209.0" r="1.9"/>
<circle cx="219.1" cy="235.8" r="1.9"/>
<circle cx="136.0" cy="227.6" r="1.9"/>
<circle cx="139.5" cy="233.1" r="1.9"/>
<circle cx="96.0" cy="189.8" r="1.9"/>
<circle cx="222.6" cy="219.5" r="1.9"/>
<circle cx="131.4" cy="196.8" r="1.9"/>
<circle cx="225.4" cy="199.8" r="1.9"/>
<circle cx="130.6" cy="216.7" r="1.9"/>
<circle cx="158.4" cy="193.3" r="1.9"/>
<circle cx="153.7" cy="192.3" r="1.9"/>
<circle cx="196.8" cy="205.9" r="1.9"/>
<circle cx="149.7" cy="199.6" r="1.9"/>
<circle cx="117.1" cy="202.2" r="1.9"/>
<circle cx="151.6" cy="231.2" r="1.9"/>
<circle cx="193.8" cy="253.1" r="1.9"/>
<circle cx="245.9" cy="197.7" r="1.9"/>
<circle cx="152.5" cy="232.3" r="1.9"/>
<circle cx="128.6" cy="193.3" r="1.9"/>
<circle cx="116.6" cy="183.5" r="1.9"/>
<circle cx="158.8" cy="181.0" r="1.9"/>
<circle cx="178.7" cy="252.4" r="1.9"/>
<circle cx="137.5" cy="221.2" r="1.9"/>
<circle cx="174.2" cy="238.2" r="1.9"/>
<circle cx="201.4" cy="222.8" r="1.9"/>
<circle cx="249.5" cy="223.4" r="1.9"/>
<circle cx="176.6" cy="223.3" r="1.9"/>
<circle cx="175.7" cy="204.0" r="1.9"/>
<circle cx="166.8" cy="218.6" r="1.9"/>
<circle cx="209.4" cy="247.8" r="1.9"/>
<circle cx="200.6" cy="210.4" r="1.9"/>
<circle cx="171.7" cy="224.8" r="1.9"/>
<circle cx="123.4" cy="194.3" r="1.9"/>
<circle cx="174.4" cy="191.2" r="1.9"/>
<circle cx="176.1" cy="212.6" r="1.9"/>
<circle cx="213.8" cy="258.2" r="1.9"/>
<circle cx="215.5" cy="191.9" r="1.9"/>
<circle cx="148.2" cy="236.4" r="1.9"/>
<circle cx="193.6" cy="182.4" r="1.9"/>
<circle cx="144.4" cy="207.6" r="1.9"/>
<circle cx="294.0" cy="269.9" r="1.9"/>
<circle cx="151.5" cy="228.2" r="1.9"/>
<circle cx="178.8" cy="182.3" r="1.9"/>
<circle cx="170.1" cy="239.8" r="1.9"/>
<circle cx="210.0" cy="242.5" r="1.9"/>
<circle cx="194.5" cy="265.9" r="1.9"/>
<circle cx="169.7" cy="208.5" r="1.9"/>
<circle cx="222.6" cy="206.9" r="1.9"/>
<circle cx="157.8" cy="240.0" r="1.9"/>
<circle cx="159.4" cy="190.6" r="1.9"/>
<circle cx="203.5" cy="264.9" r="1.9"/>
<circle cx="167.6" cy="184.9" r="1.9"/>
<circle cx="166.3" cy="229.7" r="1.9"/>
<circle cx="270.3" cy="210.9" r="1.9"/>
<circle cx="173.9" cy="190.3" r="1.9"/>
<circle cx="251.3" cy="206.2" r="1.9"/>
<circle cx="112.9" cy="201.5" r="1.9"/>
<circle cx="177.7" cy="194.5" r="1.9"/>
<circle cx="208.1" cy="252.7" r="1.9"/>
<circle cx="188.6" cy="222.9" r="1.9"/>
<circle cx="195.2" cy="185.9" r="1.9"/>
<circle cx="213.3" cy="199.8" r="1.9"/>
<circle cx="220.7" cy="207.5" r="1.9"/>
<circle cx="138.3" cy="191.0" r="1.9"/>
<circle cx="132.2" cy="201.9" r="1.9"/>
<circle cx="208.1" cy="181.6" r="1.9"/>
<circle cx="98.4" cy="188.5" r="1.9"/>
<circle cx="125.6" cy="207.6" r="1.9"/>
<circle cx="116.9" cy="186.7" r="1.9"/>
<circle cx="162.8" cy="182.9" r="1.9"/>
<circle cx="177.5" cy="183.7" r="1.9"/>
<circle cx="125.8" cy="209.1" r="1.9"/>
<circle cx="99.4" cy="183.5" r="1.9"/>
<circle cx="108.2" cy="205.5" r="1.9"/>
<circle cx="157.1" cy="197.3" r="1.9"/>
<circle cx="154.5" cy="232.0" r="1.9"/>
<circle cx="181.4" cy="204.4" r="1.9"/>
<circle cx="173.7" cy="206.7" r="1.9"/>
<circle cx="182.1" cy="202.1" r="1.9"/>
<circle cx="162.7" cy="182.0" r="1.9"/>
<circle cx="163.5" cy="193.9" r="1.9"/>
<circle cx="178.3" cy="237.5" r="1.9"/>
<circle cx="341.6" cy="226.7" r="1.9"/>
<circle cx="171.8" cy="244.0" r="1.9"/>
<circle cx="187.4" cy="218.4" r="1.9"/>
<circle cx="126.5" cy="197.9" r="1.9"/>
<circle cx="126.6" cy="213.9" r="1.9"/>
<circle cx="215.2" cy="231.9" r="1.9"/>
<circle cx="108.1" cy="190.8" r="1.9"/>
<circle cx="178.6" cy="264.9" r="1.9"/>
<circle cx="173.8" cy="233.0" r="1.9"/>
<circle cx="96.2" cy="190.1" r="1.9"/>
<circle cx="80.7" cy="181.5" r="1.9"/>
<circle cx="161.2" cy="235.5" r="1.9"/>
<circle cx="194.4" cy="225.2" r="1.9"/>
<circle cx="95.9" cy="189.2" r="1.9"/>
<circle cx="143.0" cy="226.5" r="1.9"/>
<circle cx="142.3" cy="226.8" r="1.9"/>
<circle cx="91.9" cy="185.9" r="1.9"/>
<circle cx="157.7" cy="196.6" r="1.9"/>
<circle cx="143.7" cy="224.5" r="1.9"/>
<circle cx="103.3" cy="196.5" r="1.9"/>
<circle cx="199.3" cy="188.4" r="1.9"/>
<circle cx="158.0" cy="185.9" r="1.9"/>
<circle cx="164.2" cy="185.3" r="1.9"/>
<circle cx="217.6" cy="186.9" r="1.9"/>
<circle cx="123.6" cy="200.5" r="1.9"/>
<circle cx="137.7" cy="225.7" r="1.9"/>
<circle cx="249.4" cy="240.8" r="1.9"/>
<circle cx="258.1" cy="248.7" r="1.9"/>
<circle cx="147.5" cy="195.0" r="1.9"/>
<circle cx="167.1" cy="187.7" r="1.9"/>
<circle cx="139.7" cy="223.2" r="1.9"/>
<circle cx="175.6" cy="256.0" r="1.9"/>
<circle cx="152.1" cy="216.9" r="1.9"/>
<circle cx="270.9" cy="250.8" r="1.9"/>
<circle cx="202.1" cy="270.8" r="1.9"/>
<circle cx="133.1" cy="183.9" r="1.9"/>
<circle cx="185.6" cy="191.2" r="1.9"/>
<circle cx="259.5" cy="252.7" r="1.9"/>
<circle cx="191.5" cy="266.6" r="1.9"/>
<circle cx="155.5" cy="189.9" r="1.9"/>
<circle cx="171.6" cy="186.2" r="1.9"/>
<circle cx="224.3" cy="290.1" r="1.9"/>
<circle cx="137.3" cy="197.5" r="1.9"/>
<circle cx="183.1" cy="238.5" r="1.9"/>
<circle cx="130.8" cy="209.8" r="1.9"/>
<circle cx="173.2" cy="188.9" r="1.9"/>
<circle cx="111.8" cy="189.5" r="1.9"/>
<circle cx="133.8" cy="197.6" r="1.9"/>
<circle cx="293.5" cy="254.5" r="1.9"/>
<circle cx="107.2" cy="185.4" r="1.9"/>
<circle cx="260.8" cy="277.5" r="1.9"/>
<circle cx="193.7" cy="270.7" r="1.9"/>
<circle cx="195.1" cy="191.5" r="1.9"/>
<circle cx="148.1" cy="221.4" r="1.9"/>
<circle cx="248.8" cy="217.3" r="1.9"/>
<circle cx="153.5" cy="229.4" r="1.9"/>
<circle cx="203.4" cy="232.7" r="1.9"/>
<circle cx="162.7" cy="185.6" r="1.9"/>
<circle cx="111.1" cy="193.9" r="1.9"/>
<circle cx="260.8" cy="201.0" r="1.9"/>
<circle cx="166.7" cy="200.6" r="1.9"/>
<circle cx="175.1" cy="243.6" r="1.9"/>
<circle cx="89.8" cy="184.8" r="1.9"/>
<circle cx="212.7" cy="213.1" r="1.9"/>
<circle cx="292.8" cy="210.2" r="1.9"/>
<circle cx="135.8" cy="213.3" r="1.9"/>
<circle cx="179.1" cy="225.2" r="1.9"/>
<circle cx="118.1" cy="192.5" r="1.9"/>
<circle cx="224.4" cy="264.3" r="1.9"/>
<circle cx="204.7" cy="230.0" r="1.9"/>
<circle cx="120.9" cy="190.6" r="1.9"/>
<circle cx="255.5" cy="196.9" r="1.9"/>
<circle cx="115.1" cy="192.6" r="1.9"/>
<circle cx="164.9" cy="192.2" r="1.9"/>
<circle cx="188.1" cy="251.1" r="1.9"/>
<circle cx="237.4" cy="181.8" r="1.9"/>
<circle cx="110.7" cy="185.7" r="1.9"/>
<circle cx="243.3" cy="182.5" r="1.9"/>
<circle cx="235.2" cy="184.3" r="1.9"/>
<circle cx="165.8" cy="256.4" r="1.9"/>
<circle cx="182.1" cy="186.3" r="1.9"/>
<circle cx="212.1" cy="273.5" r="1.9"/>
<circle cx="253.6" cy="182.3" r="1.9"/>
<circle cx="157.9" cy="196.9" r="1.9"/>
<circle cx="173.0" cy="223.3" r="1.9"/>
<circle cx="148.6" cy="220.4" r="1.9"/>
<circle cx="183.6" cy="184.9" r="1.9"/>
<circle cx="179.6" cy="193.3" r="1.9"/>
<circle cx="130.0" cy="194.2" r="1.9"/>
<circle cx="168.7" cy="187.1" r="1.9"/>
<circle cx="111.7" cy="182.5" r="1.9"/>
<circle cx="195.8" cy="259.8" r="1.9"/>
<circle cx="104.0" cy="189.3" r="1.9"/>
<circle cx="133.0" cy="197.3" r="1.9"/>
<circle cx="153.0" cy="246.5" r="1.9"/>
<circle cx="122.1" cy="196.2" r="1.9"/>
<circle cx="181.8" cy="183.5" r="1.9"/>
<circle cx="175.3" cy="246.9" r="1.9"/>
<circle cx="143.6" cy="196.1" r="1.9"/>
<circle cx="199.4" cy="188.7" r="1.9"/>
<circle cx="193.2" cy="206.0" r="1.9"/>
<circle cx="102.6" cy="192.4" r="1.9"/>
<circle cx="305.9" cy="206.9" r="1.9"/>
<circle cx="341.4" cy="225.6" r="1.9"/>
<circle cx="187.1" cy="200.7" r="1.9"/>
<circle cx="178.8" cy="220.4" r="1.9"/>
<circle cx="152.2" cy="181.3" r="1.9"/>
<circle cx="252.6" cy="196.1" r="1.9"/>
<circle cx="277.2" cy="199.8" r="1.9"/>
<circle cx="218.0" cy="207.1" r="1.9"/>
<circle cx="188.6" cy="192.1" r="1.9"/>
<circle cx="178.7" cy="227.4" r="1.9"/>
<circle cx="190.5" cy="184.6" r="1.9"/>
<circle cx="233.7" cy="221.6" r="1.9"/>
<circle cx="208.7" cy="232.6" r="1.9"/>
<circle cx="131.2" cy="218.9" r="1.9"/>
<circle cx="154.1" cy="181.2" r="1.9"/>
<circle cx="147.1" cy="214.6" r="1.9"/>
<circle cx="168.0" cy="230.8" r="1.9"/>
<circle cx="134.8" cy="188.2" r="1.9"/>
<circle cx="150.5" cy="199.4" r="1.9"/>
<circle cx="237.5" cy="229.4" r="1.9"/>
<circle cx="129.4" cy="185.8" r="1.9"/>
<circle cx="342.3" cy="192.1" r="1.9"/>
<circle cx="170.4" cy="211.8" r="1.9"/>
<circle cx="186.3" cy="204.8" r="1.9"/>
<circle cx="166.5" cy="182.7" r="1.9"/>
<circle cx="244.8" cy="243.1" r="1.9"/>
<circle cx="106.9" cy="199.4" r="1.9"/>
<circle cx="126.4" cy="184.6" r="1.9"/>
<circle cx="128.0" cy="188.7" r="1.9"/>
<circle cx="139.8" cy="201.8" r="1.9"/>
<circle cx="209.1" cy="212.6" r="1.9"/>
<circle cx="158.1" cy="250.5" r="1.9"/>
<circle cx="177.0" cy="191.2" r="1.9"/>
<circle cx="100.0" cy="185.1" r="1.9"/>
<circle cx="189.0" cy="197.5" r="1.9"/>
<circle cx="104.7" cy="196.4" r="1.9"/>
<circle cx="174.9" cy="215.1" r="1.9"/>
<circle cx="87.8" cy="182.6" r="1.9"/>
<circle cx="184.4" cy="257.5" r="1.9"/>
<circle cx="212.5" cy="261.2" r="1.9"/>
<circle cx="227.3" cy="262.6" r="1.9"/>
<circle cx="302.1" cy="237.7" r="1.9"/>
<circle cx="193.6" cy="224.8" r="1.9"/>
<circle cx="173.3" cy="220.4" r="1.9"/>
<circle cx="95.8" cy="191.6" r="1.9"/>
<circle cx="140.7" cy="220.4" r="1.9"/>
<circle cx="118.8" cy="189.6" r="1.9"/>
<circle cx="286.4" cy="193.0" r="1.9"/>
<circle cx="137.1" cy="187.7" r="1.9"/>
<circle cx="124.7" cy="186.1" r="1.9"/>
<circle cx="196.6" cy="190.4" r="1.9"/>
<circle cx="95.0" cy="190.0" r="1.9"/>
<circle cx="146.9" cy="203.8" r="1.9"/>
<circle cx="165.7" cy="185.2" r="1.9"/>
<circle cx="208.8" cy="253.3" r="1.9"/>
<circle cx="219.7" cy="205.4" r="1.9"/>
<circle cx="91.5" cy="188.5" r="1.9"/>
<circle cx="191.2" cy="197.7" r="1.9"/>
<circle cx="158.7" cy="197.5" r="1.9"/>
<circle cx="152.4" cy="181.9" r="1.9"/>
<circle cx="96.8" cy="185.7" r="1.9"/>
<circle cx="95.7" cy="181.4" r="1.9"/>
<circle cx="141.6" cy="187.4" r="1.9"/>
<circle cx="173.5" cy="246.5" r="1.9"/>
<circle cx="122.0" cy="186.4" r="1.9"/>
<circle cx="158.3" cy="201.5" r="1.9"/>
<circle cx="130.9" cy="182.0" r="1.9"/>
<circle cx="330.0" cy="243.9" r="1.9"/>
<circle cx="128.9" cy="191.2" r="1.9"/>
<circle cx="123.5" cy="210.3" r="1.9"/>
<circle cx="175.4" cy="207.1" r="1.9"/>
<circle cx="124.0" cy="206.1" r="1.9"/>
<circle cx="117.8" cy="189.6" r="1.9"/>
<circle cx="153.8" cy="208.6" r="1.9"/>
<circle cx="159.1" cy="231.9" r="1.9"/>
<circle cx="146.5" cy="196.3" r="1.9"/>
<circle cx="135.0" cy="184.3" r="1.9"/>
<circle cx="187.8" cy="201.4" r="1.9"/>
<circle cx="130.1" cy="189.4" r="1.9"/>
<circle cx="123.0" cy="198.7" r="1.9"/>
<circle cx="92.3" cy="187.0" r="1.9"/>
<circle cx="119.4" cy="193.1" r="1.9"/>
<circle cx="116.3" cy="198.6" r="1.9"/>
<circle cx="122.2" cy="191.0" r="1.9"/>
<circle cx="147.1" cy="209.0" r="1.9"/>
<circle cx="116.0" cy="205.0" r="1.9"/>
<circle cx="210.3" cy="233.2" r="1.9"/>
<circle cx="148.8" cy="222.3" r="1.9"/>
<circle cx="252.9" cy="246.7" r="1.9"/>
<circle cx="166.5" cy="192.6" r="1.9"/>
<circle cx="177.2" cy="181.7" r="1.9"/>
<circle cx="199.9" cy="217.6" r="1.9"/>
<circle cx="123.2" cy="190.9" r="1.9"/>
<circle cx="132.1" cy="225.4" r="1.9"/>
<circle cx="123.1" cy="214.4" r="1.9"/>
<circle cx="233.4" cy="196.4" r="1.9"/>
<circle cx="205.6" cy="196.2" r="1.9"/>
<circle cx="210.8" cy="222.5" r="1.9"/>
<circle cx="161.4" cy="199.7" r="1.9"/>
<circle cx="147.8" cy="202.3" r="1.9"/>
<circle cx="189.0" cy="199.4" r="1.9"/>
<circle cx="154.5" cy="200.3" r="1.9"/>
<circle cx="162.8" cy="222.2" r="1.9"/>
<circle cx="140.9" cy="183.6" r="1.9"/>
<circle cx="154.7" cy="191.3" r="1.9"/>
<circle cx="158.6" cy="197.1" r="1.9"/>
<circle cx="144.7" cy="197.4" r="1.9"/>
<circle cx="147.4" cy="188.3" r="1.9"/>
<circle cx="92.4" cy="184.9" r="1.9"/>
<circle cx="120.0" cy="189.1" r="1.9"/>
<circle cx="114.7" cy="195.7" r="1.9"/>
<circle cx="139.7" cy="199.0" r="1.9"/>
<circle cx="120.0" cy="188.8" r="1.9"/>
<circle cx="105.6" cy="196.8" r="1.9"/>
<circle cx="192.3" cy="266.8" r="1.9"/>
<circle cx="93.1" cy="184.0" r="1.9"/>
<circle cx="129.3" cy="187.7" r="1.9"/>
<circle cx="190.7" cy="235.9" r="1.9"/>
<circle cx="252.1" cy="208.3" r="1.9"/>
<circle cx="154.1" cy="241.2" r="1.9"/>
<circle cx="218.3" cy="198.5" r="1.9"/>
<circle cx="147.2" cy="197.5" r="1.9"/>
<circle cx="106.6" cy="185.5" r="1.9"/>
<circle cx="140.9" cy="217.1" r="1.9"/>
<circle cx="204.2" cy="191.8" r="1.9"/>
<circle cx="115.0" cy="183.0" r="1.9"/>
<circle cx="168.8" cy="186.5" r="1.9"/>
<circle cx="311.1" cy="242.2" r="1.9"/>
<circle cx="103.6" cy="193.5" r="1.9"/>
<circle cx="143.5" cy="197.7" r="1.9"/>
<circle cx="132.3" cy="186.3" r="1.9"/>
<circle cx="316.8" cy="269.4" r="1.9"/>
<circle cx="133.9" cy="211.5" r="1.9"/>
<circle cx="107.0" cy="190.4" r="1.9"/>
<circle cx="177.9" cy="204.2" r="1.9"/>
<circle cx="149.1" cy="185.1" r="1.9"/>
<circle cx="141.9" cy="234.1" r="1.9"/>
<circle cx="159.8" cy="186.5" r="1.9"/>
<circle cx="130.5" cy="193.4" r="1.9"/>
<circle cx="165.0" cy="204.0" r="1.9"/>
<circle cx="158.5" cy="200.2" r="1.9"/>
<circle cx="188.2" cy="236.5" r="1.9"/>
<circle cx="170.8" cy="186.4" r="1.9"/>
<circle cx="225.2" cy="223.3" r="1.9"/>
<circle cx="146.9" cy="183.2" r="1.9"/>
<circle cx="128.7" cy="200.4" r="1.9"/>
<circle cx="106.2" cy="190.9" r="1.9"/>
<circle cx="155.1" cy="186.7" r="1.9"/>
<circle cx="122.2" cy="191.1" r="1.9"/>
<circle cx="202.2" cy="247.7" r="1.9"/>
<circle cx="133.4" cy="183.1" r="1.9"/>
<circle cx="188.8" cy="198.2" r="1.9"/>
<circle cx="143.2" cy="184.7" r="1.9"/>
<circle cx="120.8" cy="181.2" r="1.9"/>
<circle cx="132.0" cy="183.2" r="1.9"/>
<circle cx="148.6" cy="183.2" r="1.9"/>
<circle cx="188.4" cy="197.7" r="1.9"/>
<circle cx="127.2" cy="204.9" r="1.9"/>
<circle cx="227.7" cy="276.3" r="1.9"/>
<circle cx="162.7" cy="189.3" r="1.9"/>
<circle cx="290.5" cy="226.3" r="1.9"/>
<circle cx="159.1" cy="185.5" r="1.9"/>
<circle cx="158.3" cy="229.7" r="1.9"/>
<circle cx="151.1" cy="206.7" r="1.9"/>
<circle cx="137.0" cy="186.6" r="1.9"/>
<circle cx="284.7" cy="186.9" r="1.9"/>
<circle cx="143.0" cy="216.4" r="1.9"/>
<circle cx="139.3" cy="203.5" r="1.9"/>
<circle cx="135.3" cy="219.4" r="1.9"/>
<circle cx="105.2" cy="185.1" r="1.9"/>
<circle cx="206.3" cy="186.6" r="1.9"/>
<circle cx="121.0" cy="192.5" r="1.9"/>
<circle cx="209.8" cy="234.7" r="1.9"/>
<circle cx="196.4" cy="279.1" r="1.9"/>
<circle cx="165.5" cy="213.7" r="1.9"/>
<circle cx="135.6" cy="202.3" r="1.9"/>
<circle cx="180.1" cy="193.0" r="1.9"/>
<circle cx="83.4" cy="181.6" r="1.9"/>
<circle cx="103.3" cy="187.2" r="1.9"/>
<circle cx="121.8" cy="203.0" r="1.9"/>
<circle cx="199.5" cy="231.1" r="1.9"/>
<circle cx="122.0" cy="187.8" r="1.9"/>
<circle cx="280.9" cy="241.2" r="1.9"/>
<circle cx="181.1" cy="200.7" r="1.9"/>
<circle cx="115.0" cy="184.2" r="1.9"/>
<circle cx="244.3" cy="228.2" r="1.9"/>
<circle cx="265.9" cy="264.6" r="1.9"/>
<circle cx="147.9" cy="199.8" r="1.9"/>
<circle cx="253.6" cy="187.7" r="1.9"/>
<circle cx="214.5" cy="188.9" r="1.9"/>
<circle cx="153.2" cy="221.5" r="1.9"/>
<circle cx="94.0" cy="182.4" r="1.9"/>
<circle cx="192.1" cy="190.8" r="1.9"/>
<circle cx="306.3" cy="200.7" r="1.9"/>
<circle cx="123.8" cy="193.9" r="1.9"/>
<circle cx="150.7" cy="218.5" r="1.9"/>
<circle cx="195.0" cy="243.4" r="1.9"/>
<circle cx="186.3" cy="210.6" r="1.9"/>
<circle cx="115.9" cy="184.2" r="1.9"/>
<circle cx="109.9" cy="193.0" r="1.9"/>
<circle cx="175.3" cy="245.0" r="1.9"/>
<circle cx="164.0" cy="246.9" r="1.9"/>
<circle cx="88.4" cy="182.0" r="1.9"/>
<circle cx="140.5" cy="195.6" r="1.9"/>
<circle cx="193.8" cy="203.5" r="1.9"/>
<circle cx="159.8" cy="247.3" r="1.9"/>
<circle cx="186.7" cy="193.2" r="1.9"/>
<circle cx="190.3" cy="194.8" r="1.9"/>
<circle cx="107.9" cy="181.2" r="1.9"/>
<circle cx="133.0" cy="188.7" r="1.9"/>
<circle cx="181.1" cy="226.6" r="1.9"/>
<circle cx="309.7" cy="190.7" r="1.9"/>
<circle cx="139.3" cy="188.3" r="1.9"/>
<circle cx="127.5" cy="209.6" r="1.9"/>
<circle cx="92.7" cy="183.4" r="1.9"/>
<circle cx="194.5" cy="271.9" r="1.9"/>
<circle cx="161.2" cy="182.3" r="1.9"/>
<circle cx="146.7" cy="186.9" r="1.9"/>
<circle cx="212.8" cy="224.3" r="1.9"/>
<circle cx="332.2" cy="242.6" r="1.9"/>
<circle cx="114.9" cy="206.4" r="1.9"/>
<circle cx="156.0" cy="214.7" r="1.9"/>
<circle cx="156.7" cy="212.9" r="1.9"/>
<circle cx="126.3" cy="188.8" r="1.9"/>
<circle cx="123.3" cy="207.1" r="1.9"/>
<circle cx="259.0" cy="232.2" r="1.9"/>
<circle cx="156.3" cy="216.3" r="1.9"/>
<circle cx="211.2" cy="230.6" r="1.9"/>
<circle cx="227.2" cy="230.6" r="1.9"/>
<circle cx="130.1" cy="222.3" r="1.9"/>
<circle cx="131.8" cy="203.4" r="1.9"/>
<circle cx="140.8" cy="186.4" r="1.9"/>
<circle cx="135.8" cy="191.0" r="1.9"/>
<circle cx="164.0" cy="249.6" r="1.9"/>
<circle cx="335.4" cy="277.1" r="1.9"/>
<circle cx="85.6" cy="182.1" r="1.9"/>
<circle cx="147.2" cy="220.0" r="1.9"/>
<circle cx="218.7" cy="213.1" r="1.9"/>
<circle cx="169.4" cy="206.0" r="1.9"/>
<circle cx="181.3" cy="258.1" r="1.9"/>
<circle cx="198.8" cy="218.1" r="1.9"/>
<circle cx="240.7" cy="212.7" r="1.9"/>
<circle cx="238.5" cy="182.3" r="1.9"/>
<circle cx="235.7" cy="228.2" r="1.9"/>
<circle cx="203.5" cy="267.5" r="1.9"/>
<circle cx="111.1" cy="189.2" r="1.9"/>
<circle cx="210.1" cy="243.7" r="1.9"/>
<circle cx="162.5" cy="205.5" r="1.9"/>
<circle cx="140.8" cy="184.6" r="1.9"/>
<circle cx="221.2" cy="253.9" r="1.9"/>
<circle cx="160.2" cy="197.5" r="1.9"/>
<circle cx="206.1" cy="249.9" r="1.9"/>
<circle cx="120.3" cy="209.7" r="1.9"/>
<circle cx="175.6" cy="181.8" r="1.9"/>
<circle cx="186.9" cy="259.7" r="1.9"/>
<circle cx="108.3" cy="189.4" r="1.9"/>
<circle cx="140.1" cy="190.4" r="1.9"/>
<circle cx="176.8" cy="253.7" r="1.9"/>
<circle cx="181.6" cy="262.6" r="1.9"/>
<circle cx="179.2" cy="229.0" r="1.9"/>
<circle cx="222.7" cy="219.9" r="1.9"/>
<circle cx="152.7" cy="214.3" r="1.9"/>
<circle cx="192.5" cy="229.6" r="1.9"/>
<circle cx="210.1" cy="183.2" r="1.9"/>
<circle cx="238.6" cy="251.3" r="1.9"/>
<circle cx="155.4" cy="202.5" r="1.9"/>
<circle cx="173.4" cy="224.1" r="1.9"/>
<circle cx="174.2" cy="186.5" r="1.9"/>
<circle cx="207.3" cy="220.8" r="1.9"/>
<circle cx="214.0" cy="247.1" r="1.9"/>
<circle cx="98.4" cy="187.9" r="1.9"/>
<circle cx="148.0" cy="230.1" r="1.9"/>
<circle cx="226.5" cy="255.5" r="1.9"/>
<circle cx="162.1" cy="189.8" r="1.9"/>
<circle cx="167.4" cy="191.2" r="1.9"/>
<circle cx="169.5" cy="207.8" r="1.9"/>
<circle cx="128.2" cy="206.3" r="1.9"/>
<circle cx="261.3" cy="229.4" r="1.9"/>
<circle cx="122.8" cy="190.1" r="1.9"/>
<circle cx="189.3" cy="199.7" r="1.9"/>
<circle cx="177.4" cy="262.0" r="1.9"/>
<circle cx="183.4" cy="184.2" r="1.9"/>
<circle cx="196.6" cy="203.0" r="1.9"/>
<circle cx="149.3" cy="217.8" r="1.9"/>
<circle cx="184.0" cy="199.9" r="1.9"/>
<circle cx="101.6" cy="187.2" r="1.9"/>
<circle cx="121.4" cy="191.8" r="1.9"/>
<circle cx="156.2" cy="233.9" r="1.9"/>
<circle cx="186.9" cy="209.3" r="1.9"/>
<circle cx="332.2" cy="226.1" r="1.9"/>
<circle cx="181.8" cy="196.6" r="1.9"/>
<circle cx="263.3" cy="203.6" r="1.9"/>
<circle cx="266.3" cy="241.0" r="1.9"/>
<circle cx="186.2" cy="192.1" r="1.9"/>
<circle cx="150.1" cy="223.8" r="1.9"/>
<circle cx="338.0" cy="237.4" r="1.9"/>
<circle cx="190.9" cy="183.5" r="1.9"/>
<circle cx="159.0" cy="183.4" r="1.9"/>
<circle cx="155.0" cy="232.2" r="1.9"/>
<circle cx="139.3" cy="193.0" r="1.9"/>
<circle cx="128.4" cy="206.5" r="1.9"/>
<circle cx="204.0" cy="183.3" r="1.9"/>
<circle cx="157.9" cy="182.6" r="1.9"/>
<circle cx="263.8" cy="217.8" r="1.9"/>
<circle cx="225.2" cy="182.4" r="1.9"/>
<circle cx="100.8" cy="188.2" r="1.9"/>
<circle cx="187.7" cy="184.9" r="1.9"/>
<circle cx="144.1" cy="202.1" r="1.9"/>
<circle cx="116.3" cy="182.2" r="1.9"/>
<circle cx="183.4" cy="252.7" r="1.9"/>
<circle cx="247.2" cy="185.3" r="1.9"/>
<circle cx="266.7" cy="212.3" r="1.9"/>
<circle cx="143.0" cy="200.7" r="1.9"/>
<circle cx="183.2" cy="207.6" r="1.9"/>
<circle cx="91.6" cy="184.7" r="1.9"/>
<circle cx="244.8" cy="261.7" r="1.9"/>
<circle cx="158.2" cy="186.5" r="1.9"/>
<circle cx="189.5" cy="184.3" r="1.9"/>
<circle cx="158.6" cy="236.4" r="1.9"/>
<circle cx="113.7" cy="190.5" r="1.9"/>
<circle cx="153.1" cy="207.1" r="1.9"/>
<circle cx="141.8" cy="214.6" r="1.9"/>
<circle cx="172.0" cy="203.1" r="1.9"/>
<circle cx="176.2" cy="193.1" r="1.9"/>
<circle cx="118.7" cy="192.5" r="1.9"/>
<circle cx="190.4" cy="181.5" r="1.9"/>
<circle cx="213.7" cy="252.3" r="1.9"/>
<circle cx="162.8" cy="188.5" r="1.9"/>
<circle cx="167.0" cy="182.3" r="1.9"/>
<circle cx="130.1" cy="182.2" r="1.9"/>
<circle cx="99.7" cy="187.9" r="1.9"/>
<circle cx="112.4" cy="194.4" r="1.9"/>
<circle cx="227.0" cy="269.1" r="1.9"/>
<circle cx="200.3" cy="240.5" r="1.9"/>
<circle cx="206.9" cy="218.6" r="1.9"/>
<circle cx="219.4" cy="250.7" r="1.9"/>
<circle cx="191.1" cy="203.2" r="1.9"/>
<circle cx="317.6" cy="279.4" r="1.9"/>
<circle cx="181.1" cy="205.1" r="1.9"/>
<circle cx="163.2" cy="205.2" r="1.9"/>
<circle cx="197.5" cy="194.6" r="1.9"/>
<circle cx="236.6" cy="263.3" r="1.9"/>
<circle cx="170.2" cy="202.4" r="1.9"/>
<circle cx="101.9" cy="190.7" r="1.9"/>
<circle cx="134.0" cy="189.3" r="1.9"/>
<circle cx="146.1" cy="190.1" r="1.9"/>
<circle cx="196.5" cy="243.3" r="1.9"/>
<circle cx="166.4" cy="230.7" r="1.9"/>
<circle cx="195.3" cy="246.5" r="1.9"/>
<circle cx="305.9" cy="223.9" r="1.9"/>
<circle cx="118.1" cy="213.5" r="1.9"/>
<circle cx="248.0" cy="269.8" r="1.9"/>
<circle cx="110.3" cy="188.2" r="1.9"/>
<circle cx="143.4" cy="185.3" r="1.9"/>
<circle cx="114.1" cy="203.2" r="1.9"/>
<circle cx="122.7" cy="186.3" r="1.9"/>
<circle cx="153.2" cy="216.7" r="1.9"/>
<circle cx="132.8" cy="182.4" r="1.9"/>
<circle cx="181.1" cy="258.2" r="1.9"/>
<circle cx="169.5" cy="184.6" r="1.9"/>
<circle cx="196.3" cy="191.4" r="1.9"/>
<circle cx="134.3" cy="190.0" r="1.9"/>
<circle cx="109.1" cy="189.0" r="1.9"/>
<circle cx="144.3" cy="211.5" r="1.9"/>
<circle cx="269.8" cy="257.3" r="1.9"/>
<circle cx="321.1" cy="220.8" r="1.9"/>
<circle cx="221.3" cy="227.8" r="1.9"/>
<circle cx="132.9" cy="187.9" r="1.9"/>
<circle cx="329.0" cy="219.2" r="1.9"/>
<circle cx="342.1" cy="290.4" r="1.9"/>
<circle cx="170.2" cy="259.9" r="1.9"/>
<circle cx="133.7" cy="183.1" r="1.9"/>
<circle cx="214.7" cy="211.0" r="1.9"/>
<circle cx="125.7" cy="200.5" r="1.9"/>
<circle cx="188.9" cy="191.3" r="1.9"/>
<circle cx="181.1" cy="190.0" r="1.9"/>
<circle cx="98.2" cy="182.6" r="1.9"/>
<circle cx="307.5" cy="221.1" r="1.9"/>
<circle cx="206.7" cy="264.8" r="1.9"/>
<circle cx="203.8" cy="190.3" r="1.9"/>
<circle cx="327.0" cy="245.1" r="1.9"/>
<circle cx="197.9" cy="186.0" r="1.9"/>
<circle cx="191.2" cy="278.1" r="1.9"/>
<circle cx="254.1" cy="184.1" r="1.9"/>
<circle cx="169.5" cy="202.1" r="1.9"/>
<circle cx="124.7" cy="214.8" r="1.9"/>
<circle cx="117.4" cy="184.3" r="1.9"/>
<circle cx="196.8" cy="237.4" r="1.9"/>
<circle cx="129.2" cy="183.7" r="1.9"/>
<circle cx="169.5" cy="191.2" r="1.9"/>
<circle cx="200.1" cy="271.8" r="1.9"/>
<circle cx="342.5" cy="257.8" r="1.9"/>
<circle cx="169.3" cy="225.0" r="1.9"/>
<circle cx="267.0" cy="225.4" r="1.9"/>
<circle cx="156.2" cy="226.8" r="1.9"/>
<circle cx="191.2" cy="192.4" r="1.9"/>
<circle cx="264.4" cy="182.7" r="1.9"/>
<circle cx="185.5" cy="260.5" r="1.9"/>
<circle cx="91.7" cy="190.8" r="1.9"/>
<circle cx="178.2" cy="253.5" r="1.9"/>
<circle cx="178.4" cy="188.7" r="1.9"/>
<circle cx="178.1" cy="187.6" r="1.9"/>
<circle cx="159.1" cy="192.3" r="1.9"/>
<circle cx="216.4" cy="232.4" r="1.9"/>
<circle cx="146.7" cy="196.4" r="1.9"/>
<circle cx="156.5" cy="181.5" r="1.9"/>
<circle cx="197.9" cy="242.8" r="1.9"/>
<circle cx="130.6" cy="186.0" r="1.9"/>
<circle cx="152.6" cy="198.7" r="1.9"/>
<circle cx="134.0" cy="213.3" r="1.9"/>
<circle cx="128.1" cy="181.7" r="1.9"/>
<circle cx="168.1" cy="185.4" r="1.9"/>
<circle cx="153.8" cy="202.0" r="1.9"/>
<circle cx="321.2" cy="207.0" r="1.9"/>
<circle cx="103.2" cy="193.9" r="1.9"/>
<circle cx="137.0" cy="197.0" r="1.9"/>
<circle cx="135.6" cy="187.3" r="1.9"/>
<circle cx="135.6" cy="194.4" r="1.9"/>
<circle cx="131.9" cy="204.6" r="1.9"/>
<circle cx="108.2" cy="196.9" r="1.9"/>
<circle cx="179.4" cy="215.1" r="1.9"/>
<circle cx="189.7" cy="209.0" r="1.9"/>
<circle cx="120.5" cy="204.5" r="1.9"/>
<circle cx="167.2" cy="182.2" r="1.9"/>
<circle cx="209.1" cy="186.8" r="1.9"/>
<circle cx="245.5" cy="267.7" r="1.9"/>
<circle cx="81.8" cy="182.0" r="1.9"/>
<circle cx="122.2" cy="190.3" r="1.9"/>
<circle cx="158.2" cy="243.4" r="1.9"/>
<circle cx="137.7" cy="185.7" r="1.9"/>
<circle cx="139.0" cy="186.7" r="1.9"/>
<circle cx="125.5" cy="195.9" r="1.9"/>
<circle cx="132.0" cy="183.5" r="1.9"/>
<circle cx="135.8" cy="205.3" r="1.9"/>
<circle cx="151.8" cy="196.5" r="1.9"/>
<circle cx="291.9" cy="239.8" r="1.9"/>
<circle cx="136.7" cy="223.8" r="1.9"/>
<circle cx="143.5" cy="185.9" r="1.9"/>
<circle cx="136.4" cy="221.2" r="1.9"/>
<circle cx="127.7" cy="202.9" r="1.9"/>
<circle cx="188.4" cy="259.4" r="1.9"/>
<circle cx="155.7" cy="211.1" r="1.9"/>
<circle cx="104.5" cy="183.0" r="1.9"/>
<circle cx="118.6" cy="209.5" r="1.9"/>
<circle cx="220.1" cy="241.2" r="1.9"/>
<circle cx="216.3" cy="261.7" r="1.9"/>
<circle cx="197.0" cy="188.2" r="1.9"/>
<circle cx="175.6" cy="186.0" r="1.9"/>
<circle cx="184.7" cy="203.9" r="1.9"/>
<circle cx="181.3" cy="188.0" r="1.9"/>
<circle cx="95.4" cy="185.6" r="1.9"/>
<circle cx="146.0" cy="209.7" r="1.9"/>
<circle cx="155.8" cy="182.9" r="1.9"/>
<circle cx="115.2" cy="184.0" r="1.9"/>
<circle cx="183.9" cy="263.9" r="1.9"/>
<circle cx="276.5" cy="194.0" r="1.9"/>
<circle cx="240.3" cy="193.0" r="1.9"/>
<circle cx="116.3" cy="209.5" r="1.9"/>
<circle cx="189.0" cy="205.6" r="1.9"/>
<circle cx="189.2" cy="184.8" r="1.9"/>
<circle cx="268.1" cy="190.9" r="1.9"/>
<circle cx="170.8" cy="181.6" r="1.9"/>
<circle cx="134.9" cy="203.1" r="1.9"/>
<circle cx="135.5" cy="188.7" r="1.9"/>
<circle cx="116.5" cy="190.6" r="1.9"/>
<circle cx="103.6" cy="182.6" r="1.9"/>
<circle cx="94.2" cy="186.2" r="1.9"/>
<circle cx="164.9" cy="234.7" r="1.9"/>
<circle cx="135.2" cy="191.2" r="1.9"/>
<circle cx="153.7" cy="235.7" r="1.9"/>
<circle cx="182.8" cy="215.5" r="1.9"/>
<circle cx="145.8" cy="224.9" r="1.9"/>
<circle cx="163.8" cy="236.0" r="1.9"/>
<circle cx="236.9" cy="232.3" r="1.9"/>
<circle cx="103.5" cy="194.7" r="1.9"/>
<circle cx="189.5" cy="249.2" r="1.9"/>
<circle cx="131.7" cy="210.5" r="1.9"/>
<circle cx="155.7" cy="185.6" r="1.9"/>
<circle cx="147.1" cy="184.4" r="1.9"/>
<circle cx="137.7" cy="199.8" r="1.9"/>
<circle cx="110.1" cy="199.9" r="1.9"/>
<circle cx="123.2" cy="182.8" r="1.9"/>
<circle cx="123.9" cy="183.8" r="1.9"/>
<circle cx="196.1" cy="191.1" r="1.9"/>
<circle cx="167.5" cy="211.6" r="1.9"/>
<circle cx="88.3" cy="186.3" r="1.9"/>
<circle cx="139.8" cy="227.4" r="1.9"/>
<circle cx="198.0" cy="211.4" r="1.9"/>
<circle cx="140.6" cy="202.4" r="1.9"/>
<circle cx="113.5" cy="188.3" r="1.9"/>
<circle cx="90.9" cy="182.3" r="1.9"/>
<circle cx="264.5" cy="202.1" r="1.9"/>
<circle cx="154.7" cy="187.8" r="1.9"/>
<circle cx="158.6" cy="190.4" r="1.9"/>
<circle cx="118.9" cy="185.3" r="1.9"/>
<circle cx="162.1" cy="228.3" r="1.9"/>
<circle cx="201.1" cy="247.6" r="1.9"/>
<circle cx="107.0" cy="198.4" r="1.9"/>
<circle cx="160.7" cy="183.4" r="1.9"/>
<circle cx="150.7" cy="189.7" r="1.9"/>
<circle cx="197.9" cy="255.5" r="1.9"/>
<circle cx="159.5" cy="228.7" r="1.9"/>
<circle cx="179.7" cy="232.8" r="1.9"/>
<circle cx="262.2" cy="212.4" r="1.9"/>
<circle cx="163.0" cy="214.3" r="1.9"/>
<circle cx="188.7" cy="256.2" r="1.9"/>
<circle cx="105.6" cy="197.5" r="1.9"/>
<circle cx="211.1" cy="223.0" r="1.9"/>
<circle cx="204.3" cy="197.8" r="1.9"/>
<circle cx="112.0" cy="195.0" r="1.9"/>
<circle cx="132.4" cy="210.9" r="1.9"/>
<circle cx="236.8" cy="196.7" r="1.9"/>
<circle cx="176.5" cy="218.1" r="1.9"/>
<circle cx="177.4" cy="191.6" r="1.9"/>
<circle cx="190.2" cy="186.4" r="1.9"/>
<circle cx="177.4" cy="196.1" r="1.9"/>
<circle cx="245.6" cy="183.5" r="1.9"/>
<circle cx="339.1" cy="201.9" r="1.9"/>
<circle cx="151.5" cy="213.6" r="1.9"/>
<circle cx="239.2" cy="186.5" r="1.9"/>
<circle cx="183.2" cy="201.6" r="1.9"/>
<circle cx="142.1" cy="183.6" r="1.9"/>
<circle cx="172.8" cy="184.1" r="1.9"/>
<circle cx="87.4" cy="181.4" r="1.9"/>
<circle cx="119.0" cy="205.6" r="1.9"/>
<circle cx="209.9" cy="212.7" r="1.9"/>
<circle cx="180.1" cy="259.2" r="1.9"/>
<circle cx="171.8" cy="216.8" r="1.9"/>
<circle cx="180.5" cy="217.9" r="1.9"/>
<circle cx="130.5" cy="221.0" r="1.9"/>
<circle cx="208.2" cy="223.1" r="1.9"/>
<circle cx="246.0" cy="218.6" r="1.9"/>
<circle cx="269.3" cy="238.5" r="1.9"/>
<circle cx="127.6" cy="201.9" r="1.9"/>
<circle cx="119.7" cy="203.0" r="1.9"/>
<circle cx="167.9" cy="186.3" r="1.9"/>
<circle cx="237.8" cy="187.8" r="1.9"/>
<circle cx="154.0" cy="234.4" r="1.9"/>
<circle cx="164.3" cy="181.7" r="1.9"/>
<circle cx="207.5" cy="194.3" r="1.9"/>
<circle cx="152.6" cy="198.4" r="1.9"/>
<circle cx="186.6" cy="239.2" r="1.9"/>
<circle cx="166.5" cy="233.2" r="1.9"/>
<circle cx="333.4" cy="202.2" r="1.9"/>
<circle cx="181.9" cy="266.1" r="1.9"/>
<circle cx="112.3" cy="200.1" r="1.9"/>
<circle cx="158.8" cy="243.0" r="1.9"/>
<circle cx="309.1" cy="223.0" r="1.9"/>
<circle cx="99.5" cy="186.2" r="1.9"/>
<circle cx="193.6" cy="211.3" r="1.9"/>
<circle cx="185.6" cy="239.2" r="1.9"/>
<circle cx="193.7" cy="187.3" r="1.9"/>
<circle cx="281.7" cy="228.2" r="1.9"/>
<circle cx="192.4" cy="249.9" r="1.9"/>
<circle cx="292.7" cy="242.2" r="1.9"/>
<circle cx="193.6" cy="245.0" r="1.9"/>
<circle cx="189.0" cy="219.6" r="1.9"/>
<circle cx="213.9" cy="247.1" r="1.9"/>
<circle cx="261.1" cy="215.5" r="1.9"/>
<circle cx="187.1" cy="245.8" r="1.9"/>
<circle cx="258.1" cy="260.6" r="1.9"/>
<circle cx="127.0" cy="192.6" r="1.9"/>
<circle cx="147.6" cy="215.0" r="1.9"/>
<circle cx="182.3" cy="226.3" r="1.9"/>
<circle cx="131.3" cy="199.6" r="1.9"/>
<circle cx="192.3" cy="276.3" r="1.9"/>
<circle cx="137.7" cy="208.7" r="1.9"/>
<circle cx="140.5" cy="189.5" r="1.9"/>
<circle cx="246.9" cy="249.9" r="1.9"/>
<circle cx="260.8" cy="224.0" r="1.9"/>
<circle cx="234.7" cy="182.0" r="1.9"/>
<circle cx="136.7" cy="220.6" r="1.9"/>
<circle cx="133.9" cy="185.8" r="1.9"/>
<circle cx="155.5" cy="182.5" r="1.9"/>
<circle cx="120.4" cy="193.1" r="1.9"/>
<circle cx="177.1" cy="191.4" r="1.9"/>
<circle cx="156.2" cy="205.1" r="1.9"/>
<circle cx="150.2" cy="192.2" r="1.9"/>
<circle cx="186.1" cy="183.2" r="1.9"/>
<circle cx="280.6" cy="231.6" r="1.9"/>
<circle cx="146.8" cy="192.7" r="1.9"/>
<circle cx="199.1" cy="248.6" r="1.9"/>
<circle cx="96.0" cy="182.4" r="1.9"/>
<circle cx="185.9" cy="181.4" r="1.9"/>
<circle cx="202.1" cy="239.0" r="1.9"/>
<circle cx="163.2" cy="243.1" r="1.9"/>
<circle cx="189.4" cy="262.3" r="1.9"/>
<circle cx="149.4" cy="242.1" r="1.9"/>
<circle cx="198.6" cy="269.3" r="1.9"/>
<circle cx="152.7" cy="210.3" r="1.9"/>
<circle cx="181.8" cy="187.9" r="1.9"/>
<circle cx="167.9" cy="182.9" r="1.9"/>
<circle cx="175.5" cy="228.9" r="1.9"/>
<circle cx="133.9" cy="186.3" r="1.9"/>
<circle cx="201.0" cy="246.7" r="1.9"/>
<circle cx="217.1" cy="198.2" r="1.9"/>
<circle cx="165.0" cy="185.6" r="1.9"/>
<circle cx="182.0" cy="266.1" r="1.9"/>
<circle cx="128.4" cy="222.2" r="1.9"/>
<circle cx="172.3" cy="211.9" r="1.9"/>
<circle cx="187.5" cy="194.1" r="1.9"/>
<circle cx="152.5" cy="241.0" r="1.9"/>
<circle cx="169.5" cy="214.5" r="1.9"/>
<circle cx="194.9" cy="227.0" r="1.9"/>
<circle cx="195.3" cy="255.2" r="1.9"/>
<circle cx="188.4" cy="274.0" r="1.9"/>
<circle cx="98.2" cy="184.3" r="1.9"/>
<circle cx="157.7" cy="198.7" r="1.9"/>
<circle cx="189.6" cy="261.7" r="1.9"/>
<circle cx="166.5" cy="187.8" r="1.9"/>
<circle cx="164.3" cy="212.8" r="1.9"/>
<circle cx="193.0" cy="205.8" r="1.9"/>
<circle cx="169.5" cy="245.3" r="1.9"/>
<circle cx="230.2" cy="253.6" r="1.9"/>
<circle cx="149.9" cy="217.5" r="1.9"/>
<circle cx="194.5" cy="239.1" r="1.9"/>
<circle cx="178.5" cy="188.0" r="1.9"/>
<circle cx="257.1" cy="229.5" r="1.9"/>
<circle cx="185.2" cy="249.2" r="1.9"/>
<circle cx="215.5" cy="242.9" r="1.9"/>
<circle cx="142.5" cy="208.7" r="1.9"/>
<circle cx="127.0" cy="215.4" r="1.9"/>
<circle cx="275.3" cy="187.9" r="1.9"/>
<circle cx="169.1" cy="197.2" r="1.9"/>
<circle cx="277.2" cy="138.3" r="1.9"/>
<circle cx="279.7" cy="137.9" r="1.9"/>
<circle cx="282.1" cy="137.4" r="1.9"/>
<circle cx="284.6" cy="136.9" r="1.9"/>
<circle cx="286.9" cy="136.0" r="1.9"/>
<circle cx="289.0" cy="134.6" r="1.9"/>
<circle cx="290.5" cy="132.6" r="1.9"/>
<circle cx="290.9" cy="130.1" r="1.9"/>
<circle cx="290.8" cy="127.7" r="1.9"/>
<circle cx="292.0" cy="125.4" r="1.9"/>
<circle cx="293.9" cy="123.9" r="1.9"/>
<circle cx="295.4" cy="121.9" r="1.9"/>
<circle cx="296.9" cy="119.9" r="1.9"/>
<circle cx="298.6" cy="118.1" r="1.9"/>
<circle cx="334.4" cy="110.6" r="1.9"/>
<circle cx="336.0" cy="108.7" r="1.9"/>
<circle cx="337.8" cy="107.0" r="1.9"/>
<circle cx="339.1" cy="104.8" r="1.9"/>
<circle cx="339.7" cy="102.4" r="1.9"/>
<circle cx="339.6" cy="99.9" r="1.9"/>
<circle cx="340.1" cy="97.4" r="1.9"/>
<circle cx="339.1" cy="95.1" r="1.9"/>
<circle cx="353.8" cy="127.1" r="1.9"/>
<circle cx="352.3" cy="129.0" r="1.9"/>
<circle cx="351.4" cy="131.3" r="1.9"/>
<circle cx="351.5" cy="133.8" r="1.9"/>
<circle cx="350.6" cy="136.2" r="1.9"/>
<circle cx="348.7" cy="137.8" r="1.9"/>
<circle cx="347.2" cy="139.8" r="1.9"/>
<circle cx="298.2" cy="139.0" r="1.9"/>
<circle cx="296.6" cy="137.1" r="1.9"/>
<circle cx="295.7" cy="134.8" r="1.9"/>
<circle cx="295.6" cy="132.3" r="1.9"/>
<circle cx="294.9" cy="129.8" r="1.9"/>
<circle cx="294.6" cy="127.4" r="1.9"/>
<circle cx="294.9" cy="124.9" r="1.9"/>
<circle cx="295.1" cy="122.4" r="1.9"/>
<circle cx="252.1" cy="139.4" r="1.9"/>
<circle cx="253.7" cy="141.3" r="1.9"/>
<circle cx="254.5" cy="143.6" r="1.9"/>
<circle cx="256.5" cy="145.1" r="1.9"/>
<circle cx="371.7" cy="121.9" r="1.9"/>
<circle cx="374.2" cy="122.2" r="1.9"/>
<circle cx="376.7" cy="122.5" r="1.9"/>
<circle cx="379.2" cy="122.7" r="1.9"/>
<circle cx="381.6" cy="122.9" r="1.9"/>
<circle cx="384.1" cy="122.8" r="1.9"/>
<circle cx="386.4" cy="123.8" r="1.9"/>
<circle cx="388.8" cy="124.5" r="1.9"/>
<circle cx="391.3" cy="124.4" r="1.9"/>
<circle cx="393.5" cy="125.6" r="1.9"/>
<circle cx="395.9" cy="126.3" r="1.9"/>
<circle cx="363.1" cy="105.0" r="1.9"/>
<circle cx="361.0" cy="106.3" r="1.9"/>
<circle cx="359.5" cy="108.3" r="1.9"/>
<circle cx="358.6" cy="110.6" r="1.9"/>
<circle cx="357.1" cy="112.7" r="1.9"/>
<circle cx="355.7" cy="114.7" r="1.9"/>
<circle cx="353.9" cy="116.4" r="1.9"/>
<circle cx="351.6" cy="117.4" r="1.9"/>
<circle cx="349.1" cy="117.4" r="1.9"/>
<circle cx="346.9" cy="118.5" r="1.9"/>
<circle cx="344.4" cy="118.3" r="1.9"/>
<circle cx="342.1" cy="119.5" r="1.9"/>
<circle cx="339.9" cy="120.6" r="1.9"/>
<circle cx="271.6" cy="144.6" r="1.9"/>
<circle cx="269.5" cy="145.9" r="1.9"/>
<circle cx="267.6" cy="147.5" r="1.9"/>
<circle cx="266.5" cy="149.8" r="1.9"/>
<circle cx="177.4" cy="131.0" r="1.9"/>
<circle cx="174.9" cy="131.4" r="1.9"/>
<circle cx="172.6" cy="132.4" r="1.9"/>
<circle cx="170.1" cy="132.5" r="1.9"/>
<circle cx="167.6" cy="132.3" r="1.9"/>
<circle cx="165.1" cy="132.3" r="1.9"/>
<circle cx="162.6" cy="132.1" r="1.9"/>
<circle cx="160.1" cy="132.1" r="1.9"/>
<circle cx="341.6" cy="128.7" r="1.9"/>
<circle cx="339.5" cy="127.4" r="1.9"/>
<circle cx="337.0" cy="127.4" r="1.9"/>
<circle cx="334.7" cy="128.6" r="1.9"/>
<circle cx="332.6" cy="129.8" r="1.9"/>
<circle cx="330.1" cy="129.7" r="1.9"/>
<circle cx="250.3" cy="122.1" r="1.9"/>
<circle cx="252.4" cy="123.5" r="1.9"/>
<circle cx="253.4" cy="125.8" r="1.9"/>
<circle cx="253.9" cy="128.3" r="1.9"/>
<circle cx="255.5" cy="130.2" r="1.9"/>
<circle cx="257.8" cy="131.1" r="1.9"/>
<circle cx="260.3" cy="131.2" r="1.9"/>
<circle cx="262.5" cy="132.2" r="1.9"/>
<circle cx="264.3" cy="134.0" r="1.9"/>
<circle cx="318.3" cy="123.6" r="1.9"/>
<circle cx="316.1" cy="122.5" r="1.9"/>
<circle cx="313.6" cy="122.0" r="1.9"/>
<circle cx="311.6" cy="120.5" r="1.9"/>
<circle cx="310.2" cy="118.5" r="1.9"/>
<circle cx="213.9" cy="133.3" r="1.9"/>
<circle cx="216.1" cy="131.9" r="1.9"/>
<circle cx="217.6" cy="130.0" r="1.9"/>
<circle cx="220.0" cy="129.2" r="1.9"/>
<circle cx="222.5" cy="128.8" r="1.9"/>
<circle cx="224.9" cy="129.1" r="1.9"/>
<circle cx="227.4" cy="128.6" r="1.9"/>
<circle cx="229.5" cy="127.4" r="1.9"/>
<circle cx="231.4" cy="125.7" r="1.9"/>
<circle cx="233.3" cy="124.0" r="1.9"/>
<circle cx="235.7" cy="123.7" r="1.9"/>
<circle cx="238.1" cy="122.8" r="1.9"/>
<circle cx="240.6" cy="123.0" r="1.9"/>
<circle cx="242.9" cy="122.1" r="1.9"/>
<circle cx="202.7" cy="141.1" r="1.9"/>
<circle cx="200.2" cy="140.8" r="1.9"/>
<circle cx="198.0" cy="139.6" r="1.9"/>
<circle cx="195.8" cy="138.3" r="1.9"/>
<circle cx="193.3" cy="138.4" r="1.9"/>
<circle cx="190.8" cy="138.5" r="1.9"/>
<circle cx="188.5" cy="139.5" r="1.9"/>
<circle cx="186.8" cy="141.3" r="1.9"/>
<circle cx="185.5" cy="143.4" r="1.9"/>
<circle cx="176.5" cy="136.2" r="1.9"/>
<circle cx="178.9" cy="136.8" r="1.9"/>
<circle cx="181.4" cy="137.2" r="1.9"/>
<circle cx="183.7" cy="136.2" r="1.9"/>
<circle cx="186.1" cy="135.7" r="1.9"/>
<circle cx="188.6" cy="135.5" r="1.9"/>
<circle cx="190.9" cy="136.5" r="1.9"/>
<circle cx="193.2" cy="137.6" r="1.9"/>
<circle cx="195.7" cy="137.8" r="1.9"/>
<circle cx="197.7" cy="139.4" r="1.9"/>
<circle cx="283.9" cy="126.7" r="1.9"/>
<circle cx="286.4" cy="126.6" r="1.9"/>
<circle cx="288.6" cy="125.4" r="1.9"/>
<circle cx="290.6" cy="124.0" r="1.9"/>
<circle cx="292.7" cy="122.6" r="1.9"/>
<circle cx="294.7" cy="121.0" r="1.9"/>
<circle cx="295.5" cy="118.7" r="1.9"/>
<circle cx="221.3" cy="139.2" r="1.9"/>
<circle cx="218.8" cy="139.7" r="1.9"/>
<circle cx="216.4" cy="140.2" r="1.9"/>
<circle cx="213.9" cy="139.8" r="1.9"/>
<circle cx="211.6" cy="140.7" r="1.9"/>
<circle cx="210.0" cy="142.7" r="1.9"/>
<circle cx="228.0" cy="147.0" r="1.9"/>
<circle cx="229.9" cy="145.4" r="1.9"/>
<circle cx="230.9" cy="143.1" r="1.9"/>
<circle cx="230.7" cy="140.6" r="1.9"/>
<circle cx="229.7" cy="138.3" r="1.9"/>
<circle cx="227.7" cy="136.8" r="1.9"/>
<circle cx="226.5" cy="134.7" r="1.9"/>
<circle cx="224.4" cy="133.4" r="1.9"/>
<circle cx="222.4" cy="131.8" r="1.9"/>
<circle cx="220.7" cy="130.0" r="1.9"/>
<circle cx="218.3" cy="129.1" r="1.9"/>
<circle cx="216.4" cy="127.5" r="1.9"/>
<circle cx="214.1" cy="126.5" r="1.9"/>
<circle cx="212.1" cy="125.0" r="1.9"/>
<circle cx="352.8" cy="126.2" r="1.9"/>
<circle cx="355.3" cy="126.4" r="1.9"/>
<circle cx="357.6" cy="127.4" r="1.9"/>
<circle cx="359.3" cy="129.2" r="1.9"/>
<circle cx="361.7" cy="130.1" r="1.9"/>
<circle cx="363.8" cy="131.5" r="1.9"/>
<circle cx="366.1" cy="132.2" r="1.9"/>
<circle cx="368.6" cy="132.0" r="1.9"/>
<circle cx="347.4" cy="129.5" r="1.9"/>
<circle cx="349.7" cy="130.5" r="1.9"/>
<circle cx="352.2" cy="130.4" r="1.9"/>
<circle cx="354.6" cy="130.0" r="1.9"/>
<circle cx="357.0" cy="130.9" r="1.9"/>
<circle cx="359.5" cy="130.9" r="1.9"/>
<circle cx="361.7" cy="129.9" r="1.9"/>
<circle cx="363.9" cy="128.6" r="1.9"/>
<circle cx="366.3" cy="127.9" r="1.9"/>
<circle cx="266.8" cy="121.1" r="1.9"/>
<circle cx="269.3" cy="121.1" r="1.9"/>
<circle cx="271.4" cy="122.5" r="1.9"/>
<circle cx="273.7" cy="123.4" r="1.9"/>
<circle cx="275.8" cy="124.7" r="1.9"/>
<circle cx="278.3" cy="124.8" r="1.9"/>
<circle cx="280.8" cy="124.5" r="1.9"/>
<circle cx="283.2" cy="123.9" r="1.9"/>
<circle cx="285.7" cy="124.0" r="1.9"/>
<circle cx="288.1" cy="123.4" r="1.9"/>
<circle cx="290.6" cy="122.7" r="1.9"/>
<circle cx="245.9" cy="150.9" r="1.9"/>
<circle cx="247.7" cy="149.1" r="1.9"/>
<circle cx="249.6" cy="147.6" r="1.9"/>
<circle cx="251.8" cy="146.3" r="1.9"/>
<circle cx="253.0" cy="144.1" r="1.9"/>
<circle cx="254.5" cy="142.2" r="1.9"/>
<circle cx="255.5" cy="139.9" r="1.9"/>
<circle cx="257.3" cy="138.1" r="1.9"/>
<circle cx="259.6" cy="137.0" r="1.9"/>
<circle cx="261.4" cy="135.3" r="1.9"/>
<circle cx="263.7" cy="134.4" r="1.9"/>
<circle cx="266.2" cy="134.1" r="1.9"/>
<circle cx="190.4" cy="139.7" r="1.9"/>
<circle cx="192.9" cy="139.7" r="1.9"/>
<circle cx="195.2" cy="140.6" r="1.9"/>
<circle cx="197.5" cy="141.5" r="1.9"/>
<circle cx="200.0" cy="142.0" r="1.9"/>
<circle cx="202.5" cy="141.5" r="1.9"/>
<circle cx="204.5" cy="140.1" r="1.9"/>
<circle cx="205.6" cy="137.9" r="1.9"/>
<circle cx="206.1" cy="135.4" r="1.9"/>
<circle cx="207.8" cy="133.6" r="1.9"/>
<circle cx="210.2" cy="132.9" r="1.9"/>
<circle cx="212.5" cy="131.9" r="1.9"/>
<circle cx="334.5" cy="122.4" r="1.9"/>
<circle cx="337.0" cy="122.2" r="1.9"/>
<circle cx="339.3" cy="121.1" r="1.9"/>
<circle cx="341.8" cy="121.4" r="1.9"/>
<circle cx="344.2" cy="121.8" r="1.9"/>
<circle cx="346.7" cy="121.7" r="1.9"/>
<circle cx="349.1" cy="122.5" r="1.9"/>
<circle cx="351.5" cy="121.9" r="1.9"/>
<circle cx="177.1" cy="126.8" r="1.9"/>
<circle cx="174.6" cy="126.6" r="1.9"/>
<circle cx="172.2" cy="127.4" r="1.9"/>
<circle cx="169.8" cy="127.7" r="1.9"/>
<circle cx="167.3" cy="127.3" r="1.9"/>
<circle cx="164.8" cy="127.1" r="1.9"/>
<circle cx="162.8" cy="125.7" r="1.9"/>
<circle cx="160.3" cy="125.6" r="1.9"/>
<circle cx="157.8" cy="125.2" r="1.9"/>
<circle cx="155.3" cy="125.6" r="1.9"/>
<circle cx="363.5" cy="131.2" r="1.9"/>
<circle cx="365.4" cy="129.6" r="1.9"/>
<circle cx="366.4" cy="127.3" r="1.9"/>
<circle cx="368.0" cy="125.4" r="1.9"/>
<circle cx="369.0" cy="123.1" r="1.9"/>
<circle cx="369.2" cy="120.6" r="1.9"/>
<circle cx="276.9" cy="122.0" r="1.9"/>
<circle cx="275.3" cy="123.9" r="1.9"/>
<circle cx="274.4" cy="126.2" r="1.9"/>
<circle cx="273.1" cy="128.4" r="1.9"/>
<circle cx="271.0" cy="129.7" r="1.9"/>
<circle cx="269.5" cy="131.7" r="1.9"/>
<circle cx="248.0" cy="145.4" r="1.9"/>
<circle cx="245.6" cy="144.9" r="1.9"/>
<circle cx="243.1" cy="145.4" r="1.9"/>
<circle cx="240.6" cy="145.2" r="1.9"/>
<circle cx="238.3" cy="146.0" r="1.9"/>
<circle cx="235.8" cy="146.1" r="1.9"/>
<circle cx="233.7" cy="147.6" r="1.9"/>
<circle cx="293.1" cy="126.9" r="1.9"/>
<circle cx="295.6" cy="127.3" r="1.9"/>
<circle cx="297.8" cy="128.3" r="1.9"/>
<circle cx="299.7" cy="129.9" r="1.9"/>
<circle cx="255.7" cy="141.4" r="1.9"/>
<circle cx="257.9" cy="142.7" r="1.9"/>
<circle cx="260.3" cy="143.2" r="1.9"/>
<circle cx="262.8" cy="142.9" r="1.9"/>
<circle cx="265.1" cy="143.9" r="1.9"/>
<circle cx="267.4" cy="144.7" r="1.9"/>
<circle cx="269.9" cy="144.8" r="1.9"/>
<circle cx="272.1" cy="143.7" r="1.9"/>
<circle cx="274.6" cy="143.6" r="1.9"/>
<circle cx="277.1" cy="143.9" r="1.9"/>
<circle cx="255.5" cy="143.2" r="1.9"/>
<circle cx="253.6" cy="144.8" r="1.9"/>
<circle cx="251.2" cy="145.7" r="1.9"/>
<circle cx="248.7" cy="146.0" r="1.9"/>
<circle cx="246.7" cy="147.5" r="1.9"/>
<circle cx="245.6" cy="149.8" r="1.9"/>
<circle cx="245.3" cy="152.3" r="1.9"/>
<circle cx="212.2" cy="120.7" r="1.9"/>
<circle cx="214.6" cy="121.5" r="1.9"/>
<circle cx="217.0" cy="121.9" r="1.9"/>
<circle cx="219.2" cy="123.1" r="1.9"/>
<circle cx="221.2" cy="124.7" r="1.9"/>
<circle cx="222.2" cy="127.0" r="1.9"/>
<circle cx="224.3" cy="128.4" r="1.9"/>
<circle cx="226.5" cy="129.5" r="1.9"/>
<circle cx="227.9" cy="131.6" r="1.9"/>
<circle cx="229.4" cy="133.6" r="1.9"/>
<circle cx="231.5" cy="135.0" r="1.9"/>
<circle cx="178.7" cy="138.1" r="1.9"/>
<circle cx="181.1" cy="137.3" r="1.9"/>
<circle cx="183.4" cy="136.4" r="1.9"/>
<circle cx="185.7" cy="135.4" r="1.9"/>
<circle cx="187.9" cy="134.1" r="1.9"/>
<circle cx="190.2" cy="133.1" r="1.9"/>
<circle cx="367.6" cy="137.7" r="1.9"/>
<circle cx="370.0" cy="137.1" r="1.9"/>
<circle cx="372.4" cy="137.8" r="1.9"/>
<circle cx="374.6" cy="139.0" r="1.9"/>
<circle cx="376.6" cy="140.6" r="1.9"/>
<circle cx="372.4" cy="137.5" r="1.9"/>
<circle cx="374.9" cy="137.8" r="1.9"/>
<circle cx="377.4" cy="137.7" r="1.9"/>
<circle cx="379.5" cy="136.5" r="1.9"/>
<circle cx="382.0" cy="136.2" r="1.9"/>
<circle cx="384.4" cy="136.8" r="1.9"/>
<circle cx="386.4" cy="138.3" r="1.9"/>
<circle cx="388.9" cy="138.7" r="1.9"/>
<circle cx="391.1" cy="137.6" r="1.9"/>
<circle cx="393.5" cy="136.8" r="1.9"/>
<circle cx="275.3" cy="133.3" r="1.9"/>
<circle cx="276.8" cy="135.3" r="1.9"/>
<circle cx="278.7" cy="136.9" r="1.9"/>
<circle cx="281.1" cy="137.4" r="1.9"/>
<circle cx="283.6" cy="138.0" r="1.9"/>
<circle cx="285.9" cy="138.9" r="1.9"/>
<circle cx="287.7" cy="140.6" r="1.9"/>
<circle cx="289.5" cy="142.4" r="1.9"/>
<circle cx="291.7" cy="143.5" r="1.9"/>
<circle cx="294.0" cy="144.4" r="1.9"/>
<circle cx="302.9" cy="136.8" r="1.9"/>
<circle cx="304.5" cy="138.7" r="1.9"/>
<circle cx="306.8" cy="139.8" r="1.9"/>
<circle cx="209.6" cy="126.7" r="1.9"/>
<circle cx="207.8" cy="125.0" r="1.9"/>
<circle cx="206.2" cy="123.1" r="1.9"/>
<circle cx="203.8" cy="122.2" r="1.9"/>
<circle cx="201.9" cy="120.7" r="1.9"/>
<circle cx="199.4" cy="120.1" r="1.9"/>
<circle cx="253.5" cy="150.0" r="1.9"/>
<circle cx="255.9" cy="150.4" r="1.9"/>
<circle cx="258.2" cy="149.4" r="1.9"/>
<circle cx="260.6" cy="148.5" r="1.9"/>
<circle cx="262.9" cy="147.7" r="1.9"/>
<circle cx="265.4" cy="148.1" r="1.9"/>
<circle cx="267.7" cy="148.9" r="1.9"/>
<circle cx="287.3" cy="145.2" r="1.9"/>
<circle cx="289.7" cy="145.9" r="1.9"/>
<circle cx="292.2" cy="146.2" r="1.9"/>
<circle cx="316.8" cy="134.6" r="1.9"/>
<circle cx="319.3" cy="134.6" r="1.9"/>
<circle cx="321.7" cy="134.7" r="1.9"/>
<circle cx="184.6" cy="134.9" r="1.9"/>
<circle cx="187.0" cy="134.3" r="1.9"/>
<circle cx="188.7" cy="132.5" r="1.9"/>
<circle cx="190.6" cy="130.9" r="1.9"/>
<circle cx="192.6" cy="129.3" r="1.9"/>
<circle cx="195.1" cy="129.1" r="1.9"/>
<circle cx="197.4" cy="130.1" r="1.9"/>
<circle cx="441.0" cy="112.1" r="1.9"/>
<circle cx="212.6" cy="140.2" r="1.9"/>
<circle cx="411.0" cy="135.0" r="1.9"/>
<circle cx="392.8" cy="136.0" r="1.9"/>
<circle cx="348.6" cy="106.0" r="1.9"/>
<circle cx="403.5" cy="128.1" r="1.9"/>
<circle cx="328.2" cy="111.4" r="1.9"/>
<circle cx="407.7" cy="97.7" r="1.9"/>
<circle cx="371.5" cy="86.2" r="1.9"/>
<circle cx="402.0" cy="126.1" r="1.9"/>
<circle cx="282.6" cy="132.9" r="1.9"/>
<circle cx="275.8" cy="134.8" r="1.9"/>
<circle cx="374.0" cy="128.8" r="1.9"/>
<circle cx="362.7" cy="137.0" r="1.9"/>
<circle cx="398.5" cy="130.9" r="1.9"/>
<circle cx="236.2" cy="121.6" r="1.9"/>
<circle cx="321.2" cy="130.5" r="1.9"/>
<circle cx="280.8" cy="137.9" r="1.9"/>
<circle cx="244.4" cy="149.4" r="1.9"/>
<circle cx="400.0" cy="115.5" r="1.9"/>
<circle cx="290.4" cy="101.1" r="1.9"/>
<circle cx="359.8" cy="134.1" r="1.9"/>
<circle cx="400.1" cy="124.0" r="1.9"/>
<circle cx="363.7" cy="135.6" r="1.9"/>
<circle cx="198.7" cy="141.2" r="1.9"/>
<circle cx="177.1" cy="130.0" r="1.9"/>
<circle cx="245.0" cy="131.8" r="1.9"/>
<circle cx="213.6" cy="142.4" r="1.9"/>
<circle cx="209.0" cy="137.8" r="1.9"/>
<circle cx="212.9" cy="128.7" r="1.9"/>
<circle cx="425.2" cy="105.4" r="1.9"/>
<circle cx="230.8" cy="149.0" r="1.9"/>
<circle cx="210.2" cy="116.4" r="1.9"/>
<circle cx="286.4" cy="93.0" r="1.9"/>
<circle cx="322.2" cy="127.4" r="1.9"/>
<circle cx="259.7" cy="142.4" r="1.9"/>
<circle cx="399.7" cy="95.4" r="1.9"/>
<circle cx="341.7" cy="119.8" r="1.9"/>
<circle cx="284.0" cy="117.1" r="1.9"/>
<circle cx="278.9" cy="128.2" r="1.9"/>
<circle cx="258.7" cy="135.3" r="1.9"/>
<circle cx="244.1" cy="109.2" r="1.9"/>
<circle cx="260.2" cy="115.8" r="1.9"/>
<circle cx="391.9" cy="135.7" r="1.9"/>
<circle cx="249.5" cy="99.2" r="1.9"/>
<circle cx="324.9" cy="104.5" r="1.9"/>
<circle cx="289.5" cy="104.3" r="1.9"/>
<circle cx="414.8" cy="132.5" r="1.9"/>
<circle cx="204.1" cy="134.1" r="1.9"/>
<circle cx="196.4" cy="140.8" r="1.9"/>
<circle cx="325.5" cy="124.9" r="1.9"/>
<circle cx="278.1" cy="132.2" r="1.9"/>
<circle cx="256.2" cy="100.7" r="1.9"/>
<circle cx="343.2" cy="135.6" r="1.9"/>
<circle cx="337.1" cy="98.0" r="1.9"/>
<circle cx="332.3" cy="99.0" r="1.9"/>
<circle cx="405.6" cy="134.0" r="1.9"/>
<circle cx="322.3" cy="110.4" r="1.9"/>
<circle cx="264.7" cy="114.5" r="1.9"/>
<circle cx="180.7" cy="119.7" r="1.9"/>
<circle cx="273.5" cy="115.9" r="1.9"/>
<circle cx="180.2" cy="121.2" r="1.9"/>
<circle cx="238.1" cy="89.1" r="1.9"/>
<circle cx="285.6" cy="135.9" r="1.9"/>
<circle cx="328.5" cy="108.5" r="1.9"/>
<circle cx="420.8" cy="103.0" r="1.9"/>
<circle cx="361.2" cy="102.4" r="1.9"/>
<circle cx="350.5" cy="128.9" r="1.9"/>
<circle cx="234.9" cy="114.8" r="1.9"/>
<circle cx="423.5" cy="101.0" r="1.9"/>
<circle cx="315.2" cy="128.9" r="1.9"/>
<circle cx="181.2" cy="141.1" r="1.9"/>
<circle cx="275.5" cy="120.1" r="1.9"/>
<circle cx="358.2" cy="102.1" r="1.9"/>
<circle cx="324.3" cy="96.1" r="1.9"/>
<circle cx="260.1" cy="140.9" r="1.9"/>
<circle cx="307.8" cy="101.3" r="1.9"/>
<circle cx="290.6" cy="134.5" r="1.9"/>
<circle cx="292.4" cy="125.9" r="1.9"/>
<circle cx="245.7" cy="138.8" r="1.9"/>
<circle cx="271.3" cy="109.5" r="1.9"/>
<circle cx="386.4" cy="108.8" r="1.9"/>
<circle cx="207.4" cy="130.6" r="1.9"/>
<circle cx="364.7" cy="70.7" r="1.9"/>
<circle cx="188.9" cy="104.9" r="1.9"/>
<circle cx="437.5" cy="88.9" r="1.9"/>
<circle cx="327.4" cy="97.3" r="1.9"/>
<circle cx="249.0" cy="142.0" r="1.9"/>
<circle cx="183.2" cy="135.1" r="1.9"/>
<circle cx="355.5" cy="115.4" r="1.9"/>
<circle cx="346.1" cy="116.3" r="1.9"/>
<circle cx="299.7" cy="127.6" r="1.9"/>
<circle cx="366.1" cy="136.0" r="1.9"/>
<circle cx="292.2" cy="132.9" r="1.9"/>
<circle cx="249.2" cy="141.3" r="1.9"/>
<circle cx="399.0" cy="126.6" r="1.9"/>
<circle cx="312.0" cy="100.7" r="1.9"/>
<circle cx="348.8" cy="93.5" r="1.9"/>
<circle cx="324.9" cy="126.7" r="1.9"/>
<circle cx="394.6" cy="126.6" r="1.9"/>
<circle cx="178.5" cy="137.7" r="1.9"/>
<circle cx="248.8" cy="133.7" r="1.9"/>
<circle cx="254.2" cy="98.8" r="1.9"/>
<circle cx="440.8" cy="108.1" r="1.9"/>
<circle cx="388.0" cy="131.1" r="1.9"/>
<circle cx="255.6" cy="115.2" r="1.9"/>
<circle cx="212.3" cy="130.2" r="1.9"/>
<circle cx="265.8" cy="99.4" r="1.9"/>
<circle cx="218.0" cy="141.5" r="1.9"/>
<circle cx="223.3" cy="127.4" r="1.9"/>
<circle cx="314.5" cy="129.7" r="1.9"/>
<circle cx="411.7" cy="115.6" r="1.9"/>
<circle cx="198.6" cy="129.7" r="1.9"/>
<circle cx="419.7" cy="101.6" r="1.9"/>
<circle cx="193.8" cy="138.3" r="1.9"/>
<circle cx="319.0" cy="108.0" r="1.9"/>
<circle cx="193.3" cy="112.4" r="1.9"/>
<circle cx="286.4" cy="125.4" r="1.9"/>
<circle cx="279.0" cy="96.0" r="1.9"/>
<circle cx="172.5" cy="117.7" r="1.9"/>
<circle cx="115.3" cy="157.3" r="1.9"/>
<circle cx="116.9" cy="157.3" r="1.9"/>
<circle cx="118.7" cy="155.6" r="1.9"/>
<circle cx="120.5" cy="154.9" r="1.9"/>
<circle cx="122.9" cy="154.3" r="1.9"/>
<circle cx="124.5" cy="152.5" r="1.9"/>
<circle cx="126.1" cy="152.6" r="1.9"/>
<circle cx="127.9" cy="151.6" r="1.9"/>
<circle cx="130.2" cy="150.2" r="1.9"/>
<circle cx="132.4" cy="149.7" r="1.9"/>
<circle cx="134.2" cy="149.4" r="1.9"/>
<circle cx="135.9" cy="148.4" r="1.9"/>
<circle cx="137.5" cy="147.3" r="1.9"/>
<circle cx="139.4" cy="145.7" r="1.9"/>
<circle cx="141.9" cy="145.8" r="1.9"/>
<circle cx="143.9" cy="144.2" r="1.9"/>
<circle cx="145.5" cy="143.2" r="1.9"/>
<circle cx="147.2" cy="143.3" r="1.9"/>
<circle cx="149.4" cy="141.9" r="1.9"/>
<circle cx="150.9" cy="140.2" r="1.9"/>
<circle cx="152.8" cy="139.5" r="1.9"/>
<circle cx="155.2" cy="138.5" r="1.9"/>
<circle cx="156.9" cy="137.4" r="1.9"/>
<circle cx="158.6" cy="137.6" r="1.9"/>
<circle cx="160.5" cy="136.4" r="1.9"/>
<circle cx="162.4" cy="135.8" r="1.9"/>
<circle cx="164.1" cy="134.6" r="1.9"/>
<circle cx="166.2" cy="133.8" r="1.9"/>
<circle cx="168.2" cy="132.2" r="1.9"/>
<circle cx="170.1" cy="131.1" r="1.9"/>
<circle cx="171.7" cy="132.6" r="1.9"/>
<circle cx="173.7" cy="132.4" r="1.9"/>
<circle cx="175.8" cy="132.9" r="1.9"/>
<circle cx="177.3" cy="133.2" r="1.9"/>
<circle cx="179.5" cy="133.4" r="1.9"/>
<circle cx="181.4" cy="134.2" r="1.9"/>
<circle cx="183.7" cy="135.2" r="1.9"/>
<circle cx="185.2" cy="135.5" r="1.9"/>
<circle cx="187.0" cy="135.4" r="1.9"/>
<circle cx="189.3" cy="135.1" r="1.9"/>
<circle cx="191.0" cy="135.9" r="1.9"/>
<circle cx="193.2" cy="136.2" r="1.9"/>
<circle cx="194.5" cy="135.9" r="1.9"/>
<circle cx="196.9" cy="137.4" r="1.9"/>
<circle cx="198.2" cy="137.4" r="1.9"/>
<circle cx="200.6" cy="137.5" r="1.9"/>
<circle cx="202.5" cy="137.2" r="1.9"/>
<circle cx="204.0" cy="137.4" r="1.9"/>
<circle cx="206.5" cy="137.7" r="1.9"/>
<circle cx="208.4" cy="138.3" r="1.9"/>
<circle cx="209.9" cy="139.1" r="1.9"/>
<circle cx="211.8" cy="139.7" r="1.9"/>
<circle cx="214.2" cy="139.5" r="1.9"/>
<circle cx="215.6" cy="139.6" r="1.9"/>
<circle cx="217.5" cy="139.2" r="1.9"/>
<circle cx="219.2" cy="140.2" r="1.9"/>
<circle cx="232.0" cy="127.1" r="1.9"/>
<circle cx="451.0" cy="128.0" r="1.9"/>
<circle cx="366.3" cy="98.9" r="1.9"/>
<circle cx="255.8" cy="135.9" r="1.9"/>
<circle cx="362.6" cy="126.5" r="1.9"/>
<circle cx="339.5" cy="122.4" r="1.9"/>
<circle cx="325.7" cy="123.1" r="1.9"/>
<circle cx="323.8" cy="89.4" r="1.9"/>
<circle cx="362.4" cy="117.0" r="1.9"/>
<circle cx="203.3" cy="116.4" r="1.9"/>
<circle cx="367.5" cy="109.8" r="1.9"/>
<circle cx="207.2" cy="128.9" r="1.9"/>
<circle cx="376.7" cy="108.2" r="1.9"/>
<circle cx="418.6" cy="88.7" r="1.9"/>
<circle cx="396.9" cy="101.1" r="1.9"/>
<circle cx="397.8" cy="106.3" r="1.9"/>
<circle cx="247.0" cy="70.3" r="1.9"/>
<circle cx="416.9" cy="74.2" r="1.9"/>
<circle cx="361.0" cy="88.3" r="1.9"/>
<circle cx="359.5" cy="128.6" r="1.9"/>
<circle cx="285.6" cy="93.3" r="1.9"/>
<circle cx="410.2" cy="120.6" r="1.9"/>
<circle cx="429.3" cy="122.7" r="1.9"/>
<circle cx="295.0" cy="70.6" r="1.9"/>
<circle cx="359.2" cy="95.4" r="1.9"/>
<circle cx="381.8" cy="114.9" r="1.9"/>
<circle cx="395.8" cy="97.7" r="1.9"/>
<circle cx="377.8" cy="77.0" r="1.9"/>
<circle cx="310.1" cy="76.2" r="1.9"/>
<circle cx="399.5" cy="100.9" r="1.9"/>
<circle cx="252.2" cy="100.3" r="1.9"/>
<circle cx="268.0" cy="119.1" r="1.9"/>
<circle cx="338.1" cy="112.7" r="1.9"/>
<circle cx="329.2" cy="89.7" r="1.9"/>
<circle cx="419.1" cy="115.5" r="1.9"/>
<circle cx="296.1" cy="118.9" r="1.9"/>
<circle cx="345.1" cy="95.0" r="1.9"/>
<circle cx="290.4" cy="94.5" r="1.9"/>
<circle cx="305.1" cy="88.5" r="1.9"/>
<circle cx="206.0" cy="117.0" r="1.9"/>
<circle cx="208.5" cy="116.2" r="1.9"/>
<circle cx="211.1" cy="115.3" r="1.9"/>
<circle cx="213.6" cy="114.5" r="1.9"/>
<circle cx="216.1" cy="113.8" r="1.9"/>
<circle cx="218.7" cy="113.0" r="1.9"/>
<circle cx="221.2" cy="112.4" r="1.9"/>
<circle cx="223.7" cy="111.8" r="1.9"/>
<circle cx="226.3" cy="111.2" r="1.9"/>
<circle cx="228.8" cy="110.8" r="1.9"/>
<circle cx="231.3" cy="110.4" r="1.9"/>
<circle cx="233.9" cy="110.0" r="1.9"/>
<circle cx="236.4" cy="109.7" r="1.9"/>
<circle cx="238.9" cy="109.5" r="1.9"/>
<circle cx="241.5" cy="109.2" r="1.9"/>
<circle cx="244.0" cy="109.0" r="1.9"/>
<circle cx="337.0" cy="90.6" r="1.9"/>
<circle cx="339.6" cy="89.8" r="1.9"/>
<circle cx="342.2" cy="89.1" r="1.9"/>
<circle cx="344.8" cy="87.7" r="1.9"/>
<circle cx="347.4" cy="86.8" r="1.9"/>
<circle cx="350.0" cy="86.7" r="1.9"/>
<circle cx="352.6" cy="86.1" r="1.9"/>
<circle cx="355.2" cy="86.5" r="1.9"/>
<circle cx="357.8" cy="85.0" r="1.9"/>
<circle cx="360.4" cy="83.8" r="1.9"/>
<circle cx="363.0" cy="82.8" r="1.9"/>
<circle cx="365.6" cy="81.2" r="1.9"/>
<circle cx="368.2" cy="79.4" r="1.9"/>
<circle cx="370.8" cy="76.6" r="1.9"/>
<circle cx="373.4" cy="74.5" r="1.9"/>
<circle cx="376.0" cy="72.6" r="1.9"/>
<circle cx="378.6" cy="70.9" r="1.9"/>
<circle cx="381.2" cy="71.2" r="1.9"/>
<circle cx="383.8" cy="73.9" r="1.9"/>
<circle cx="386.4" cy="76.8" r="1.9"/>
<circle cx="389.0" cy="77.0" r="1.9"/>
<circle cx="391.6" cy="77.9" r="1.9"/>
<circle cx="394.2" cy="78.8" r="1.9"/>
<circle cx="396.8" cy="79.8" r="1.9"/>
<circle cx="399.4" cy="80.6" r="1.9"/>
<circle cx="418.0" cy="40.6" r="1.9"/>
<circle cx="362.7" cy="136.0" r="1.9"/>
<circle cx="379.1" cy="135.7" r="1.9"/>
<circle cx="376.9" cy="135.7" r="1.9"/>
<circle cx="376.4" cy="135.4" r="1.9"/>
<circle cx="362.6" cy="135.6" r="1.9"/>
<circle cx="378.4" cy="135.6" r="1.9"/>
<circle cx="377.1" cy="137.6" r="1.9"/>
<circle cx="365.7" cy="137.5" r="1.9"/>
<circle cx="360.9" cy="135.0" r="1.9"/>
<circle cx="379.1" cy="136.6" r="1.9"/>
<circle cx="367.1" cy="137.3" r="1.9"/>
<circle cx="372.5" cy="137.2" r="1.9"/>
<circle cx="365.0" cy="135.2" r="1.9"/>
<circle cx="361.1" cy="134.8" r="1.9"/>
<circle cx="369.6" cy="137.5" r="1.9"/>
<circle cx="370.1" cy="134.7" r="1.9"/>
<circle cx="369.3" cy="135.5" r="1.9"/>
<circle cx="375.3" cy="134.9" r="1.9"/>
<circle cx="371.8" cy="134.9" r="1.9"/>
<circle cx="361.6" cy="136.1" r="1.9"/>
<circle cx="364.9" cy="136.5" r="1.9"/>
<circle cx="362.2" cy="135.9" r="1.9"/>
<circle cx="372.5" cy="138.2" r="1.9"/>
<circle cx="360.9" cy="145.0" r="1.9"/>
<circle cx="379.7" cy="147.4" r="1.9"/>
<circle cx="360.0" cy="140.9" r="1.9"/>
<circle cx="379.7" cy="174.6" r="1.9"/>
<circle cx="360.0" cy="152.9" r="1.9"/>
<circle cx="379.3" cy="169.9" r="1.9"/>
<circle cx="359.3" cy="167.5" r="1.9"/>
<circle cx="379.1" cy="155.5" r="1.9"/>
<circle cx="360.3" cy="177.7" r="1.9"/>
<circle cx="379.9" cy="147.1" r="1.9"/>
<circle cx="360.2" cy="151.7" r="1.9"/>
<circle cx="378.6" cy="169.1" r="1.9"/>
<circle cx="360.5" cy="166.2" r="1.9"/>
<circle cx="378.6" cy="143.3" r="1.9"/>
<circle cx="359.5" cy="175.8" r="1.9"/>
<circle cx="378.7" cy="152.1" r="1.9"/>
<circle cx="360.4" cy="165.0" r="1.9"/>
<circle cx="378.9" cy="148.0" r="1.9"/>
<circle cx="359.3" cy="168.3" r="1.9"/>
<circle cx="380.0" cy="162.9" r="1.9"/>
<circle cx="359.8" cy="171.8" r="1.9"/>
<circle cx="379.9" cy="164.6" r="1.9"/>
<circle cx="360.2" cy="170.9" r="1.9"/>
<circle cx="379.4" cy="172.4" r="1.9"/>
<circle cx="360.2" cy="146.6" r="1.9"/>
<circle cx="378.8" cy="167.9" r="1.9"/>
<circle cx="360.4" cy="151.4" r="1.9"/>
<circle cx="379.0" cy="154.9" r="1.9"/>
<circle cx="360.2" cy="145.3" r="1.9"/>
<circle cx="379.9" cy="149.6" r="1.9"/>
<circle cx="360.0" cy="142.5" r="1.9"/>
<circle cx="378.7" cy="171.0" r="1.9"/>
<circle cx="360.8" cy="169.7" r="1.9"/>
<circle cx="378.8" cy="147.0" r="1.9"/>
<circle cx="359.9" cy="143.4" r="1.9"/>
<circle cx="379.4" cy="161.2" r="1.9"/>
<circle cx="360.5" cy="176.2" r="1.9"/>
<circle cx="379.0" cy="145.2" r="1.9"/>
<circle cx="359.8" cy="171.3" r="1.9"/>
<circle cx="379.0" cy="167.8" r="1.9"/>
<circle cx="391.2" cy="139.3" r="1.9"/>
<circle cx="389.1" cy="138.1" r="1.9"/>
<circle cx="392.6" cy="139.8" r="1.9"/>
<circle cx="389.9" cy="139.1" r="1.9"/>
<circle cx="389.8" cy="137.2" r="1.9"/>
<circle cx="390.1" cy="137.9" r="1.9"/>
<circle cx="386.0" cy="138.4" r="1.9"/>
<circle cx="387.3" cy="140.0" r="1.9"/>
<circle cx="386.9" cy="140.0" r="1.9"/>
<circle cx="393.1" cy="139.7" r="1.9"/>
<circle cx="388.4" cy="137.8" r="1.9"/>
<circle cx="391.5" cy="137.1" r="1.9"/>
<circle cx="395.0" cy="136.8" r="1.9"/>
<circle cx="395.0" cy="138.4" r="1.9"/>
<circle cx="396.0" cy="140.2" r="1.9"/>
<circle cx="391.5" cy="139.1" r="1.9"/>
<circle cx="387.1" cy="137.7" r="1.9"/>
<circle cx="383.4" cy="149.4" r="1.9"/>
<circle cx="398.9" cy="160.6" r="1.9"/>
<circle cx="384.1" cy="172.1" r="1.9"/>
<circle cx="398.0" cy="158.7" r="1.9"/>
<circle cx="384.3" cy="142.3" r="1.9"/>
<circle cx="398.5" cy="158.9" r="1.9"/>
<circle cx="383.4" cy="160.0" r="1.9"/>
<circle cx="398.2" cy="142.7" r="1.9"/>
<circle cx="384.1" cy="168.7" r="1.9"/>
<circle cx="398.4" cy="151.4" r="1.9"/>
<circle cx="384.0" cy="144.4" r="1.9"/>
<circle cx="399.1" cy="159.0" r="1.9"/>
<circle cx="384.9" cy="144.9" r="1.9"/>
<circle cx="397.8" cy="144.6" r="1.9"/>
<circle cx="384.1" cy="169.8" r="1.9"/>
<circle cx="399.0" cy="141.7" r="1.9"/>
<circle cx="383.6" cy="148.6" r="1.9"/>
<circle cx="399.1" cy="161.7" r="1.9"/>
<circle cx="384.6" cy="163.6" r="1.9"/>
<circle cx="398.6" cy="154.3" r="1.9"/>
<circle cx="385.0" cy="165.8" r="1.9"/>
<circle cx="397.6" cy="148.1" r="1.9"/>
<circle cx="384.5" cy="166.7" r="1.9"/>
<circle cx="398.1" cy="140.3" r="1.9"/>
<circle cx="384.7" cy="140.6" r="1.9"/>
<circle cx="398.1" cy="141.3" r="1.9"/>
<circle cx="384.3" cy="161.7" r="1.9"/>
<circle cx="398.8" cy="149.5" r="1.9"/>
<circle cx="384.4" cy="146.0" r="1.9"/>
<circle cx="397.9" cy="166.7" r="1.9"/>
<circle cx="384.5" cy="149.1" r="1.9"/>
<circle cx="398.8" cy="141.3" r="1.9"/>
<circle cx="383.6" cy="173.2" r="1.9"/>
<circle cx="398.2" cy="159.1" r="1.9"/>
<circle cx="383.7" cy="161.5" r="1.9"/>
<circle cx="399.0" cy="143.1" r="1.9"/>
<circle cx="412.1" cy="136.9" r="1.9"/>
<circle cx="409.6" cy="135.7" r="1.9"/>
<circle cx="413.8" cy="135.1" r="1.9"/>
<circle cx="405.3" cy="138.3" r="1.9"/>
<circle cx="409.5" cy="136.6" r="1.9"/>
<circle cx="407.5" cy="137.3" r="1.9"/>
<circle cx="408.9" cy="137.3" r="1.9"/>
<circle cx="405.8" cy="136.8" r="1.9"/>
<circle cx="414.8" cy="135.7" r="1.9"/>
<circle cx="409.6" cy="137.1" r="1.9"/>
<circle cx="408.6" cy="135.3" r="1.9"/>
<circle cx="406.1" cy="136.2" r="1.9"/>
<circle cx="405.9" cy="137.8" r="1.9"/>
<circle cx="409.4" cy="138.6" r="1.9"/>
<circle cx="416.1" cy="137.7" r="1.9"/>
<circle cx="408.1" cy="137.8" r="1.9"/>
<circle cx="402.6" cy="166.0" r="1.9"/>
<circle cx="416.1" cy="162.4" r="1.9"/>
<circle cx="401.8" cy="167.3" r="1.9"/>
<circle cx="416.5" cy="145.4" r="1.9"/>
<circle cx="403.4" cy="149.0" r="1.9"/>
<circle cx="417.1" cy="169.6" r="1.9"/>
<circle cx="402.7" cy="157.6" r="1.9"/>
<circle cx="416.9" cy="160.2" r="1.9"/>
<circle cx="401.9" cy="139.1" r="1.9"/>
<circle cx="416.4" cy="144.6" r="1.9"/>
<circle cx="401.9" cy="150.3" r="1.9"/>
<circle cx="415.5" cy="161.8" r="1.9"/>
<circle cx="403.5" cy="142.1" r="1.9"/>
<circle cx="415.8" cy="156.6" r="1.9"/>
<circle cx="402.8" cy="143.2" r="1.9"/>
<circle cx="416.0" cy="160.1" r="1.9"/>
<circle cx="402.8" cy="148.5" r="1.9"/>
<circle cx="416.5" cy="168.9" r="1.9"/>
<circle cx="401.8" cy="142.3" r="1.9"/>
<circle cx="417.3" cy="165.0" r="1.9"/>
<circle cx="402.0" cy="159.8" r="1.9"/>
<circle cx="416.6" cy="150.3" r="1.9"/>
<circle cx="402.2" cy="162.4" r="1.9"/>
<circle cx="415.7" cy="153.7" r="1.9"/>
<circle cx="403.4" cy="168.4" r="1.9"/>
<circle cx="415.6" cy="148.3" r="1.9"/>
<circle cx="402.9" cy="154.8" r="1.9"/>
<circle cx="417.1" cy="157.3" r="1.9"/>
<circle cx="401.8" cy="146.4" r="1.9"/>
<circle cx="416.7" cy="147.8" r="1.9"/>
<circle cx="402.6" cy="166.9" r="1.9"/>
<circle cx="416.8" cy="153.7" r="1.9"/>
<circle cx="398.7" cy="172.0" r="1.9"/>
<circle cx="402.3" cy="142.8" r="1.9"/>
<circle cx="401.6" cy="156.9" r="1.9"/>
<circle cx="401.0" cy="174.4" r="1.9"/>
<circle cx="399.9" cy="172.9" r="1.9"/>
<circle cx="400.8" cy="157.3" r="1.9"/>
<circle cx="400.5" cy="153.6" r="1.9"/>
<circle cx="402.4" cy="179.3" r="1.9"/>
<circle cx="402.1" cy="145.8" r="1.9"/>
<circle cx="400.6" cy="157.5" r="1.9"/>
<circle cx="401.3" cy="161.5" r="1.9"/>
<circle cx="399.2" cy="146.1" r="1.9"/>
<circle cx="402.1" cy="167.2" r="1.9"/>
<circle cx="402.2" cy="156.7" r="1.9"/>
<circle cx="392.4" cy="171.2" r="1.9"/>
<circle cx="397.5" cy="175.2" r="1.9"/>
<circle cx="384.4" cy="173.0" r="1.9"/>
<circle cx="412.8" cy="177.4" r="1.9"/>
<circle cx="405.6" cy="173.7" r="1.9"/>
<circle cx="386.8" cy="179.0" r="1.9"/>
<circle cx="387.9" cy="172.6" r="1.9"/>
<circle cx="394.2" cy="172.7" r="1.9"/>
<circle cx="411.0" cy="170.1" r="1.9"/>
<circle cx="407.6" cy="181.0" r="1.9"/>
<circle cx="407.9" cy="170.9" r="1.9"/>
<circle cx="414.3" cy="176.7" r="1.9"/>
<circle cx="401.0" cy="180.0" r="1.9"/>
<circle cx="400.4" cy="171.2" r="1.9"/>
<circle cx="387.5" cy="176.2" r="1.9"/>
<circle cx="414.7" cy="172.7" r="1.9"/>
<circle cx="394.5" cy="170.5" r="1.9"/>
<circle cx="396.9" cy="177.8" r="1.9"/>
<circle cx="389.8" cy="170.3" r="1.9"/>
<circle cx="407.8" cy="175.5" r="1.9"/>
<circle cx="393.6" cy="172.4" r="1.9"/>
<circle cx="384.2" cy="173.5" r="1.9"/>
<circle cx="399.9" cy="180.6" r="1.9"/>
<circle cx="397.6" cy="178.4" r="1.9"/>
<circle cx="391.4" cy="179.3" r="1.9"/>
<circle cx="393.9" cy="176.4" r="1.9"/>
<circle cx="415.7" cy="179.3" r="1.9"/>
<circle cx="390.4" cy="178.8" r="1.9"/>
<circle cx="388.8" cy="175.2" r="1.9"/>
<circle cx="386.3" cy="171.6" r="1.9"/>
<circle cx="391.4" cy="177.2" r="1.9"/>
<circle cx="394.9" cy="170.4" r="1.9"/>
<circle cx="409.0" cy="174.9" r="1.9"/>
<circle cx="414.3" cy="175.4" r="1.9"/>
<circle cx="388.3" cy="171.9" r="1.9"/>
<circle cx="409.4" cy="181.0" r="1.9"/>
<circle cx="411.1" cy="178.3" r="1.9"/>
<circle cx="387.6" cy="175.9" r="1.9"/>
<circle cx="399.4" cy="175.2" r="1.9"/>
<circle cx="412.5" cy="174.1" r="1.9"/>
<circle cx="380.8" cy="165.4" r="1.9"/>
<circle cx="382.8" cy="177.2" r="1.9"/>
<circle cx="383.0" cy="151.8" r="1.9"/>
<circle cx="380.0" cy="148.4" r="1.9"/>
<circle cx="383.5" cy="174.4" r="1.9"/>
<circle cx="380.1" cy="163.4" r="1.9"/>
<circle cx="381.7" cy="154.1" r="1.9"/>
<circle cx="382.2" cy="149.2" r="1.9"/>
<circle cx="380.3" cy="140.5" r="1.9"/>
<circle cx="383.5" cy="180.0" r="1.9"/>
<circle cx="380.2" cy="140.2" r="1.9"/>
<circle cx="382.8" cy="140.6" r="1.9"/>
<circle cx="355.8" cy="151.8" r="1.9"/>
<circle cx="358.0" cy="170.0" r="1.9"/>
<circle cx="357.5" cy="170.8" r="1.9"/>
<circle cx="358.4" cy="144.8" r="1.9"/>
<circle cx="355.8" cy="178.4" r="1.9"/>
<circle cx="355.7" cy="154.3" r="1.9"/>
<circle cx="358.2" cy="145.9" r="1.9"/>
<circle cx="356.8" cy="143.5" r="1.9"/>
<circle cx="359.5" cy="171.6" r="1.9"/>
<circle cx="357.6" cy="173.1" r="1.9"/>
<circle cx="421.0" cy="163.6" r="1.9"/>
<circle cx="417.7" cy="162.8" r="1.9"/>
<circle cx="426.4" cy="173.5" r="1.9"/>
<circle cx="417.8" cy="170.7" r="1.9"/>
<circle cx="427.1" cy="174.8" r="1.9"/>
<circle cx="420.8" cy="170.2" r="1.9"/>
<circle cx="419.6" cy="159.5" r="1.9"/>
<circle cx="419.0" cy="164.5" r="1.9"/>
<circle cx="424.3" cy="176.0" r="1.9"/>
<circle cx="418.1" cy="174.9" r="1.9"/>
<circle cx="418.5" cy="176.6" r="1.9"/>
<circle cx="417.7" cy="169.7" r="1.9"/>
<circle cx="418.5" cy="168.7" r="1.9"/>
<circle cx="425.0" cy="179.6" r="1.9"/>
<circle cx="419.6" cy="168.3" r="1.9"/>
<circle cx="422.4" cy="179.1" r="1.9"/>
<circle cx="419.2" cy="133.1" r="1.9"/>
<circle cx="422.4" cy="139.4" r="1.9"/>
<circle cx="422.3" cy="157.5" r="1.9"/>
<circle cx="419.0" cy="135.2" r="1.9"/>
<circle cx="419.0" cy="141.5" r="1.9"/>
<circle cx="419.3" cy="136.9" r="1.9"/>
<circle cx="363.7" cy="126.6" r="1.9"/>
<circle cx="402.4" cy="122.3" r="1.9"/>
<circle cx="417.6" cy="130.8" r="1.9"/>
<circle cx="376.9" cy="139.5" r="1.9"/>
<circle cx="376.7" cy="126.9" r="1.9"/>
<circle cx="406.3" cy="140.5" r="1.9"/>
<circle cx="358.1" cy="133.4" r="1.9"/>
<circle cx="417.6" cy="137.8" r="1.9"/>
<circle cx="400.9" cy="140.5" r="1.9"/>
<circle cx="368.5" cy="140.8" r="1.9"/>
<circle cx="377.0" cy="125.4" r="1.9"/>
<circle cx="400.5" cy="135.5" r="1.9"/>
<circle cx="385.2" cy="122.0" r="1.9"/>
<circle cx="374.0" cy="133.4" r="1.9"/>
<circle cx="376.9" cy="131.3" r="1.9"/>
<circle cx="389.3" cy="132.8" r="1.9"/>
<circle cx="396.3" cy="122.2" r="1.9"/>
<circle cx="411.2" cy="129.3" r="1.9"/>
<circle cx="416.8" cy="132.7" r="1.9"/>
<circle cx="405.7" cy="139.2" r="1.9"/>
<circle cx="363.2" cy="129.7" r="1.9"/>
<circle cx="356.4" cy="125.0" r="1.9"/>
<circle cx="374.8" cy="130.7" r="1.9"/>
<circle cx="389.7" cy="126.9" r="1.9"/>
<circle cx="372.2" cy="125.8" r="1.9"/>
<circle cx="383.0" cy="133.7" r="1.9"/>
<circle cx="417.1" cy="128.0" r="1.9"/>
<circle cx="372.7" cy="122.3" r="1.9"/>
<circle cx="411.3" cy="133.8" r="1.9"/>
<circle cx="359.5" cy="132.4" r="1.9"/>
<circle cx="367.6" cy="134.0" r="1.9"/>
<circle cx="393.5" cy="126.6" r="1.9"/>
<circle cx="379.7" cy="123.7" r="1.9"/>
<circle cx="396.6" cy="128.8" r="1.9"/>
<circle cx="388.5" cy="133.4" r="1.9"/>
<circle cx="365.3" cy="125.6" r="1.9"/>
<circle cx="359.0" cy="122.3" r="1.9"/>
<circle cx="415.1" cy="138.8" r="1.9"/>
<circle cx="380.1" cy="137.9" r="1.9"/>
<circle cx="403.7" cy="127.4" r="1.9"/>
<circle cx="387.2" cy="126.9" r="1.9"/>
<circle cx="411.6" cy="134.5" r="1.9"/>
<circle cx="376.3" cy="125.6" r="1.9"/>
<circle cx="408.0" cy="127.9" r="1.9"/>
<circle cx="402.2" cy="130.2" r="1.9"/>
<circle cx="357.2" cy="140.5" r="1.9"/>
<circle cx="367.1" cy="131.0" r="1.9"/>
<circle cx="368.9" cy="133.2" r="1.9"/>
<circle cx="373.6" cy="127.4" r="1.9"/>
<circle cx="363.7" cy="136.0" r="1.9"/>
<circle cx="400.8" cy="132.1" r="1.9"/>
<circle cx="391.6" cy="122.9" r="1.9"/>
<circle cx="407.3" cy="140.2" r="1.9"/>
<circle cx="369.8" cy="131.3" r="1.9"/>
<circle cx="418.3" cy="135.3" r="1.9"/>
<circle cx="417.4" cy="127.6" r="1.9"/>
<circle cx="374.9" cy="131.9" r="1.9"/>
<circle cx="422.3" cy="130.5" r="1.9"/>
<circle cx="398.6" cy="131.2" r="1.9"/>
<circle cx="370.1" cy="140.8" r="1.9"/>
<circle cx="440.1" cy="172.3" r="1.9"/>
<circle cx="443.1" cy="172.2" r="1.9"/>
<circle cx="441.4" cy="167.2" r="1.9"/>
<circle cx="428.7" cy="167.6" r="1.9"/>
<circle cx="441.4" cy="170.3" r="1.9"/>
<circle cx="437.0" cy="177.2" r="1.9"/>
<circle cx="439.1" cy="178.6" r="1.9"/>
<circle cx="443.8" cy="173.2" r="1.9"/>
<circle cx="440.6" cy="169.1" r="1.9"/>
<circle cx="441.4" cy="172.1" r="1.9"/>
<circle cx="439.2" cy="171.4" r="1.9"/>
<circle cx="443.3" cy="167.3" r="1.9"/>
<circle cx="439.3" cy="172.6" r="1.9"/>
<circle cx="449.4" cy="171.5" r="1.9"/>
<circle cx="447.0" cy="169.8" r="1.9"/>
<circle cx="444.9" cy="177.8" r="1.9"/>
<circle cx="436.6" cy="101.6" r="1.9"/>
<circle cx="416.7" cy="114.2" r="1.9"/>
<circle cx="452.8" cy="97.8" r="1.9"/>
<circle cx="452.9" cy="90.1" r="1.9"/>
<circle cx="425.7" cy="99.0" r="1.9"/>
<circle cx="447.0" cy="96.0" r="1.9"/>
<circle cx="441.2" cy="102.7" r="1.9"/>
<circle cx="404.3" cy="108.9" r="1.9"/>
<circle cx="449.6" cy="107.3" r="1.9"/>
<circle cx="423.1" cy="107.7" r="1.9"/>
<circle cx="436.4" cy="108.8" r="1.9"/>
<circle cx="425.2" cy="92.1" r="1.9"/>
<circle cx="409.9" cy="116.5" r="1.9"/>
<circle cx="438.8" cy="91.2" r="1.9"/>
<circle cx="399.9" cy="105.4" r="1.9"/>
<circle cx="438.9" cy="99.2" r="1.9"/>
<circle cx="415.1" cy="112.0" r="1.9"/>
<circle cx="430.0" cy="88.5" r="1.9"/>
<circle cx="433.5" cy="90.7" r="1.9"/>
<circle cx="439.0" cy="97.9" r="1.9"/>
<circle cx="430.9" cy="108.1" r="1.9"/>
<circle cx="438.2" cy="107.6" r="1.9"/>
<circle cx="417.1" cy="93.5" r="1.9"/>
<circle cx="448.3" cy="90.3" r="1.9"/>
<circle cx="449.0" cy="151.1" r="1.9"/>
<circle cx="446.9" cy="153.4" r="1.9"/>
<circle cx="444.2" cy="154.3" r="1.9"/>
<circle cx="441.9" cy="156.5" r="1.9"/>
<circle cx="440.6" cy="158.6" r="1.9"/>
<circle cx="436.6" cy="159.1" r="1.9"/>
<circle cx="434.6" cy="162.4" r="1.9"/>
<circle cx="432.4" cy="162.8" r="1.9"/>
<circle cx="431.8" cy="164.6" r="1.9"/>
<circle cx="446.9" cy="146.8" r="1.9"/>
<circle cx="451.4" cy="131.1" r="1.9"/>
<circle cx="452.1" cy="138.4" r="1.9"/>
<circle cx="451.2" cy="116.3" r="1.9"/>
<circle cx="447.1" cy="162.3" r="1.9"/>
<circle cx="450.4" cy="163.2" r="1.9"/>
<circle cx="447.2" cy="131.5" r="1.9"/>
<circle cx="452.6" cy="161.6" r="1.9"/>
<circle cx="451.3" cy="171.8" r="1.9"/>
<circle cx="449.6" cy="120.7" r="1.9"/>
<circle cx="451.5" cy="171.2" r="1.9"/>
<circle cx="448.0" cy="140.8" r="1.9"/>
<circle cx="449.6" cy="167.9" r="1.9"/>
<circle cx="451.0" cy="154.0" r="1.9"/>
<circle cx="449.9" cy="160.1" r="1.9"/>
<circle cx="445.7" cy="175.9" r="1.9"/>
<circle cx="450.7" cy="134.8" r="1.9"/>
<circle cx="448.0" cy="170.7" r="1.9"/>
<circle cx="450.6" cy="171.9" r="1.9"/>
<circle cx="448.6" cy="122.6" r="1.9"/>
<circle cx="447.6" cy="172.6" r="1.9"/>
<circle cx="450.2" cy="148.7" r="1.9"/>
<circle cx="453.2" cy="121.5" r="1.9"/>
<circle cx="449.0" cy="150.3" r="1.9"/>
<circle cx="450.8" cy="154.9" r="1.9"/>
<circle cx="447.1" cy="130.7" r="1.9"/>
<circle cx="449.0" cy="115.4" r="1.9"/>
<circle cx="446.1" cy="172.6" r="1.9"/>
<circle cx="449.9" cy="112.7" r="1.9"/>
<circle cx="450.8" cy="138.1" r="1.9"/>
<circle cx="424.0" cy="178.5" r="1.9"/>
<circle cx="425.8" cy="178.4" r="1.9"/>
<circle cx="427.6" cy="178.6" r="1.9"/>
<circle cx="429.4" cy="179.3" r="1.9"/>
<circle cx="431.2" cy="178.4" r="1.9"/>
<circle cx="433.0" cy="178.8" r="1.9"/>
<circle cx="434.8" cy="179.0" r="1.9"/>
<circle cx="436.6" cy="178.8" r="1.9"/>
<circle cx="438.4" cy="178.3" r="1.9"/>
<circle cx="440.2" cy="178.6" r="1.9"/>
<circle cx="442.0" cy="178.7" r="1.9"/>
<circle cx="443.8" cy="179.4" r="1.9"/>
<circle cx="416.0" cy="171.6" r="1.9"/>
<circle cx="418.2" cy="173.0" r="1.9"/>
<circle cx="420.4" cy="171.1" r="1.9"/>
<circle cx="422.6" cy="171.8" r="1.9"/>
<circle cx="424.8" cy="172.0" r="1.9"/>
<circle cx="427.0" cy="171.8" r="1.9"/>
<circle cx="429.2" cy="171.8" r="1.9"/>
<circle cx="431.4" cy="172.1" r="1.9"/>
<circle cx="433.6" cy="171.5" r="1.9"/>
<circle cx="435.8" cy="172.7" r="1.9"/>
<circle cx="438.0" cy="171.4" r="1.9"/>
<circle cx="440.2" cy="171.9" r="1.9"/>
<circle cx="442.4" cy="172.0" r="1.9"/>
<circle cx="444.6" cy="172.5" r="1.9"/>
<circle cx="414.2" cy="185.2" r="1.9"/>
<circle cx="340.0" cy="197.0" r="1.9"/>
<circle cx="271.5" cy="205.3" r="1.9"/>
<circle cx="269.6" cy="184.8" r="1.9"/>
<circle cx="264.0" cy="183.0" r="1.9"/>
<circle cx="366.0" cy="190.1" r="1.9"/>
<circle cx="253.1" cy="184.1" r="1.9"/>
<circle cx="349.7" cy="182.2" r="1.9"/>
<circle cx="313.6" cy="185.9" r="1.9"/>
<circle cx="358.5" cy="213.9" r="1.9"/>
<circle cx="371.5" cy="186.0" r="1.9"/>
<circle cx="351.4" cy="206.0" r="1.9"/>
<circle cx="344.3" cy="183.8" r="1.9"/>
<circle cx="285.9" cy="186.1" r="1.9"/>
<circle cx="403.3" cy="187.3" r="1.9"/>
<circle cx="241.0" cy="181.9" r="1.9"/>
<circle cx="396.7" cy="187.0" r="1.9"/>
<circle cx="271.3" cy="181.5" r="1.9"/>
<circle cx="337.9" cy="215.1" r="1.9"/>
<circle cx="410.8" cy="181.4" r="1.9"/>
<circle cx="378.2" cy="181.6" r="1.9"/>
<circle cx="350.7" cy="202.5" r="1.9"/>
<circle cx="354.7" cy="187.6" r="1.9"/>
<circle cx="365.1" cy="181.6" r="1.9"/>
<circle cx="355.9" cy="190.7" r="1.9"/>
<circle cx="303.2" cy="196.7" r="1.9"/>
<circle cx="405.1" cy="196.9" r="1.9"/>
<circle cx="270.2" cy="212.7" r="1.9"/>
<circle cx="371.4" cy="219.4" r="1.9"/>
<circle cx="334.6" cy="201.0" r="1.9"/>
<circle cx="377.6" cy="262.6" r="1.9"/>
<circle cx="386.0" cy="273.0" r="1.9"/>
<circle cx="374.0" cy="299.0" r="1.9"/>
<circle cx="324.5" cy="279.0" r="1.9"/>
<circle cx="322.0" cy="280.0" r="1.9"/>
<circle cx="306.5" cy="259.5" r="1.9"/>
<circle cx="307.5" cy="260.0" r="1.9"/>
<circle cx="284.0" cy="258.0" r="1.9"/>
<circle cx="288.0" cy="260.0" r="1.9"/>
<circle cx="295.0" cy="253.0" r="1.9"/>
<circle cx="267.0" cy="241.0" r="1.9"/>
<circle cx="269.0" cy="243.0" r="1.9"/>
<circle cx="279.0" cy="245.5" r="1.9"/>
<circle cx="298.0" cy="237.0" r="1.9"/>
<circle cx="303.0" cy="235.0" r="1.9"/>
<circle cx="316.0" cy="235.0" r="1.9"/>
<circle cx="325.0" cy="238.0" r="1.9"/>
<circle cx="312.0" cy="241.0" r="1.9"/>
<circle cx="275.0" cy="239.0" r="1.9"/>
<circle cx="262.0" cy="234.5" r="1.9"/>
<circle cx="218.0" cy="289.0" r="1.9"/>
<circle cx="247.0" cy="289.0" r="1.9"/>
<circle cx="216.5" cy="305.0" r="1.9"/>
<circle cx="232.0" cy="318.5" r="1.9"/>
<circle cx="259.3" cy="323.3" r="1.9"/>
<circle cx="127.3" cy="171.8" r="1.9"/>
<circle cx="130.8" cy="172.1" r="1.9"/>
<circle cx="134.2" cy="170.6" r="1.9"/>
<circle cx="136.6" cy="169.1" r="1.9"/>
<circle cx="140.3" cy="165.4" r="1.9"/>
<circle cx="143.9" cy="164.7" r="1.9"/>
<circle cx="145.8" cy="164.9" r="1.9"/>
<circle cx="150.4" cy="164.8" r="1.9"/>
<circle cx="136.9" cy="153.7" r="1.9"/>
<circle cx="139.9" cy="154.6" r="1.9"/>
<circle cx="143.9" cy="151.7" r="1.9"/>
<circle cx="147.7" cy="152.5" r="1.9"/>
<circle cx="151.4" cy="150.4" r="1.9"/>
<circle cx="159.1" cy="158.0" r="1.9"/>
<circle cx="162.2" cy="160.0" r="1.9"/>
<circle cx="166.2" cy="156.5" r="1.9"/>
<circle cx="168.8" cy="156.7" r="1.9"/>
<circle cx="172.5" cy="155.4" r="1.9"/>
<circle cx="176.2" cy="156.8" r="1.9"/>
<circle cx="213.3" cy="163.1" r="1.9"/>
<circle cx="214.2" cy="156.4" r="1.9"/>
<circle cx="215.7" cy="163.8" r="1.9"/>
<circle cx="219.5" cy="156.1" r="1.9"/>
<circle cx="215.3" cy="159.0" r="1.9"/>
<circle cx="216.7" cy="161.0" r="1.9"/>
<circle cx="214.7" cy="156.9" r="1.9"/>
<circle cx="253.0" cy="166.5" r="1.9"/>
<circle cx="253.2" cy="160.3" r="1.9"/>
<circle cx="247.2" cy="160.1" r="1.9"/>
<circle cx="253.6" cy="162.6" r="1.9"/>
<circle cx="249.0" cy="162.6" r="1.9"/>
<circle cx="251.3" cy="157.3" r="1.9"/>
<circle cx="248.8" cy="166.3" r="1.9"/>
<circle cx="252.5" cy="162.7" r="1.9"/>
<circle cx="254.5" cy="159.1" r="1.9"/>
<circle cx="254.5" cy="161.2" r="1.9"/>
<circle cx="256.0" cy="161.0" r="1.9"/>
<circle cx="258.8" cy="159.7" r="1.9"/>
<circle cx="258.8" cy="161.1" r="1.9"/>
<circle cx="267.4" cy="158.9" r="1.9"/>
<circle cx="268.5" cy="161.3" r="1.9"/>
<circle cx="267.9" cy="157.7" r="1.9"/>
<circle cx="264.6" cy="159.2" r="1.9"/>
<circle cx="263.9" cy="159.7" r="1.9"/>
<circle cx="263.2" cy="163.8" r="1.9"/>
<circle cx="268.9" cy="160.5" r="1.9"/>
<circle cx="262.0" cy="156.2" r="1.9"/>
<circle cx="274.7" cy="161.4" r="1.9"/>
<circle cx="273.8" cy="165.5" r="1.9"/>
<circle cx="270.2" cy="165.9" r="1.9"/>
<circle cx="272.4" cy="161.9" r="1.9"/>
<circle cx="274.7" cy="160.1" r="1.9"/>
<circle cx="311.4" cy="160.1" r="1.9"/>
<circle cx="313.5" cy="159.0" r="1.9"/>
<circle cx="313.3" cy="154.9" r="1.9"/>
<circle cx="323.9" cy="156.5" r="1.9"/>
<circle cx="324.9" cy="159.0" r="1.9"/>
<circle cx="324.4" cy="153.6" r="1.9"/>
<circle cx="271.9" cy="163.3" r="1.9"/>
<circle cx="267.2" cy="165.2" r="1.9"/>
</g>
</g>
<g stroke="#333" stroke-width="1.1" fill="none">
<rect x="77" y="9" width="464.5" height="340.6"/>
<path stroke="#222" stroke-width="0.7" d="M200.87 349.5v-4.6M200.87 9v4.6"/>
<path stroke="#222" stroke-width="0.7" d="M324.73 349.5v-4.6M324.73 9v4.6"/>
<path stroke="#222" stroke-width="0.7" d="M448.60 349.5v-4.6M448.60 9v4.6"/>
<path stroke="#222" stroke-width="0.7" d="M77 312.26h4.6M541.5 312.26h-4.6"/>
<path stroke="#222" stroke-width="0.7" d="M77 268.04h4.6M541.5 268.04h-4.6"/>
<path stroke="#222" stroke-width="0.7" d="M77 223.82h4.6M541.5 223.82h-4.6"/>
<path stroke="#222" stroke-width="0.7" d="M77 179.60h4.6M541.5 179.60h-4.6"/>
<path stroke="#222" stroke-width="0.7" d="M77 135.38h4.6M541.5 135.38h-4.6"/>
<path stroke="#222" stroke-width="0.7" d="M77 91.16h4.6M541.5 91.16h-4.6"/>
<path stroke="#222" stroke-width="0.7" d="M77 46.94h4.6M541.5 46.94h-4.6"/>
</g>
<g font-family="Liberation Sans, sans-serif" font-size="22.5" fill="#111" stroke="#111" stroke-width="0.3">
<text x="77.5" y="374.8" text-anchor="middle">0</text>
<text x="201.4" y="374.8" text-anchor="middle">2000</text>
<text x="325.2" y="374.8" text-anchor="middle">4000</text>
<text x="449.1" y="374.8" text-anchor="middle">6000</text>
<text x="73.2" y="320.9" text-anchor="end">−60</text>
<text x="73.2" y="276.6" text-anchor="end">−40</text>
<text x="73.2" y="232.4" text-anchor="end">−20</text>
<text x="73.2" y="188.2" text-anchor="end">0</text>
<text x="73.2" y="144.0" text-anchor="end">20</text>
<text x="73.2" y="99.8" text-anchor="end">40</text>
<text x="73.2" y="55.5" text-anchor="end">60</text>
</g>
<g font-family="Liberation Sans, sans-serif" font-size="24.1" fill="#111" stroke="#111" stroke-width="0.3" text-anchor="middle">
<text x="310.2" y="407.1">E−motor Speed (rpm)</text>
<text transform="translate(23.8 181.5) rotate(-90)" font-size="24.5">E−motor Power (kW)</text>
</g>
</svg>
</body></html>
